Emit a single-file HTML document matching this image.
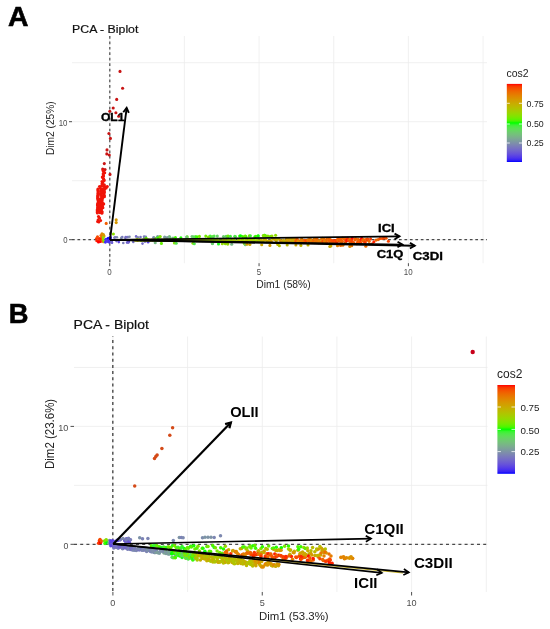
<!DOCTYPE html>
<html><head><meta charset="utf-8"><style>
html,body{margin:0;padding:0;background:#fff;}
svg{display:block;filter:blur(0.3px);}
text{font-family:"Liberation Sans",sans-serif;}
</style></head><body>
<svg width="550" height="629" viewBox="0 0 550 629" font-family="Liberation Sans, sans-serif">
<rect width="550" height="629" fill="#fff"/>
<line x1="109.70" y1="36" x2="109.70" y2="263.2" stroke="#ececec" stroke-width="0.8"/>
<line x1="184.38" y1="36" x2="184.38" y2="263.2" stroke="#ececec" stroke-width="0.8"/>
<line x1="259.05" y1="36" x2="259.05" y2="263.2" stroke="#ececec" stroke-width="0.8"/>
<line x1="333.73" y1="36" x2="333.73" y2="263.2" stroke="#ececec" stroke-width="0.8"/>
<line x1="408.40" y1="36" x2="408.40" y2="263.2" stroke="#ececec" stroke-width="0.8"/>
<line x1="483.07" y1="36" x2="483.07" y2="263.2" stroke="#ececec" stroke-width="0.8"/>
<line x1="72" y1="239.70" x2="487" y2="239.70" stroke="#ececec" stroke-width="0.8"/>
<line x1="72" y1="180.70" x2="487" y2="180.70" stroke="#ececec" stroke-width="0.8"/>
<line x1="72" y1="121.70" x2="487" y2="121.70" stroke="#ececec" stroke-width="0.8"/>
<line x1="72" y1="62.70" x2="487" y2="62.70" stroke="#ececec" stroke-width="0.8"/>
<line x1="109.80" y1="36" x2="109.80" y2="263.2" stroke="#4a4a4a" stroke-width="1.2" stroke-dasharray="2.7 2.75" stroke-dashoffset="0"/>
<line x1="72" y1="239.70" x2="487" y2="239.70" stroke="#4a4a4a" stroke-width="1.2" stroke-dasharray="2.7 2.75"/>
<circle cx="120.0" cy="71.4" r="1.55" fill="#c81414"/>
<circle cx="122.6" cy="88.2" r="1.55" fill="#c81414"/>
<circle cx="116.7" cy="99.4" r="1.55" fill="#c81414"/>
<circle cx="113.2" cy="108.0" r="1.55" fill="#c81414"/>
<circle cx="109.8" cy="111.2" r="1.55" fill="#c81414"/>
<circle cx="115.9" cy="112.8" r="1.55" fill="#c81414"/>
<circle cx="118.7" cy="116.3" r="1.55" fill="#c81414"/>
<circle cx="108.9" cy="133.5" r="1.55" fill="#c81414"/>
<circle cx="110.4" cy="138.4" r="1.55" fill="#c81414"/>
<circle cx="107.0" cy="149.9" r="1.55" fill="#c81414"/>
<circle cx="106.8" cy="153.9" r="1.55" fill="#c81414"/>
<circle cx="109.3" cy="155.0" r="1.55" fill="#c81414"/>
<circle cx="104.3" cy="163.6" r="1.55" fill="#c81414"/>
<circle cx="102.7" cy="169.1" r="1.55" fill="#c81414"/>
<circle cx="105.0" cy="169.6" r="1.55" fill="#c81414"/>
<circle cx="110.0" cy="174.4" r="1.55" fill="#c81414"/>
<circle cx="103.1" cy="170.5" r="1.55" fill="#f01408"/>
<circle cx="103.5" cy="171.6" r="1.55" fill="#f01408"/>
<circle cx="104.7" cy="172.7" r="1.55" fill="#f01408"/>
<circle cx="103.2" cy="173.8" r="1.55" fill="#f01408"/>
<circle cx="103.3" cy="174.9" r="1.55" fill="#f01408"/>
<circle cx="103.6" cy="176.0" r="1.55" fill="#f01408"/>
<circle cx="102.3" cy="177.1" r="1.55" fill="#f01408"/>
<circle cx="103.3" cy="178.2" r="1.55" fill="#f01408"/>
<circle cx="103.7" cy="179.3" r="1.55" fill="#f01408"/>
<circle cx="104.2" cy="180.4" r="1.55" fill="#f01408"/>
<circle cx="102.0" cy="181.5" r="1.55" fill="#f01408"/>
<circle cx="102.7" cy="182.6" r="1.55" fill="#f01408"/>
<circle cx="102.0" cy="183.7" r="1.55" fill="#f01408"/>
<circle cx="104.3" cy="184.8" r="1.55" fill="#f01408"/>
<circle cx="99.5" cy="186.5" r="1.55" fill="#f01408"/>
<circle cx="101.5" cy="186.0" r="1.55" fill="#f01408"/>
<circle cx="103.5" cy="186.3" r="1.55" fill="#f01408"/>
<circle cx="105.5" cy="186.8" r="1.55" fill="#f01408"/>
<circle cx="107.3" cy="186.5" r="1.55" fill="#f01408"/>
<circle cx="100.5" cy="188.2" r="1.55" fill="#f01408"/>
<circle cx="104.0" cy="188.5" r="1.55" fill="#f01408"/>
<circle cx="106.2" cy="188.0" r="1.55" fill="#f01408"/>
<circle cx="97.9" cy="189.0" r="1.55" fill="#f01408"/>
<circle cx="104.5" cy="189.3" r="1.55" fill="#f01408"/>
<circle cx="103.3" cy="189.1" r="1.55" fill="#f01408"/>
<circle cx="98.0" cy="190.0" r="1.55" fill="#f01408"/>
<circle cx="104.2" cy="189.7" r="1.55" fill="#f01408"/>
<circle cx="101.4" cy="189.6" r="1.55" fill="#f01408"/>
<circle cx="98.0" cy="191.0" r="1.55" fill="#f01408"/>
<circle cx="103.1" cy="190.7" r="1.55" fill="#f01408"/>
<circle cx="100.7" cy="191.0" r="1.55" fill="#f01408"/>
<circle cx="98.3" cy="192.0" r="1.55" fill="#f01408"/>
<circle cx="104.5" cy="192.1" r="1.55" fill="#f01408"/>
<circle cx="101.5" cy="192.1" r="1.55" fill="#f01408"/>
<circle cx="98.0" cy="193.0" r="1.55" fill="#f01408"/>
<circle cx="103.5" cy="193.3" r="1.55" fill="#f01408"/>
<circle cx="102.5" cy="193.3" r="1.55" fill="#f01408"/>
<circle cx="98.0" cy="194.0" r="1.55" fill="#f01408"/>
<circle cx="104.0" cy="193.8" r="1.55" fill="#f01408"/>
<circle cx="100.5" cy="193.7" r="1.55" fill="#f01408"/>
<circle cx="98.1" cy="195.0" r="1.55" fill="#f01408"/>
<circle cx="104.0" cy="195.2" r="1.55" fill="#f01408"/>
<circle cx="100.9" cy="195.4" r="1.55" fill="#f01408"/>
<circle cx="97.6" cy="196.0" r="1.55" fill="#f01408"/>
<circle cx="104.1" cy="195.8" r="1.55" fill="#f01408"/>
<circle cx="102.8" cy="196.0" r="1.55" fill="#f01408"/>
<circle cx="98.0" cy="197.0" r="1.55" fill="#f01408"/>
<circle cx="104.4" cy="196.7" r="1.55" fill="#f01408"/>
<circle cx="101.9" cy="197.2" r="1.55" fill="#f01408"/>
<circle cx="97.6" cy="198.0" r="1.55" fill="#f01408"/>
<circle cx="102.5" cy="197.9" r="1.55" fill="#f01408"/>
<circle cx="101.5" cy="198.2" r="1.55" fill="#f01408"/>
<circle cx="97.8" cy="199.0" r="1.55" fill="#f01408"/>
<circle cx="102.1" cy="198.8" r="1.55" fill="#f01408"/>
<circle cx="99.6" cy="199.2" r="1.55" fill="#f01408"/>
<circle cx="98.1" cy="200.0" r="1.55" fill="#f01408"/>
<circle cx="102.1" cy="200.0" r="1.55" fill="#f01408"/>
<circle cx="99.8" cy="200.2" r="1.55" fill="#f01408"/>
<circle cx="98.2" cy="201.0" r="1.55" fill="#f01408"/>
<circle cx="101.9" cy="200.8" r="1.55" fill="#f01408"/>
<circle cx="100.1" cy="200.8" r="1.55" fill="#f01408"/>
<circle cx="98.6" cy="202.0" r="1.55" fill="#f01408"/>
<circle cx="102.1" cy="202.2" r="1.55" fill="#f01408"/>
<circle cx="100.0" cy="202.3" r="1.55" fill="#f01408"/>
<circle cx="97.9" cy="203.0" r="1.55" fill="#f01408"/>
<circle cx="101.9" cy="203.2" r="1.55" fill="#f01408"/>
<circle cx="100.4" cy="202.7" r="1.55" fill="#f01408"/>
<circle cx="97.6" cy="204.0" r="1.55" fill="#f01408"/>
<circle cx="103.7" cy="203.9" r="1.55" fill="#f01408"/>
<circle cx="102.0" cy="203.9" r="1.55" fill="#f01408"/>
<circle cx="97.4" cy="205.0" r="1.55" fill="#f01408"/>
<circle cx="101.9" cy="204.8" r="1.55" fill="#f01408"/>
<circle cx="100.3" cy="204.8" r="1.55" fill="#f01408"/>
<circle cx="97.7" cy="206.0" r="1.55" fill="#f01408"/>
<circle cx="102.5" cy="206.0" r="1.55" fill="#f01408"/>
<circle cx="101.5" cy="206.0" r="1.55" fill="#f01408"/>
<circle cx="98.3" cy="207.0" r="1.55" fill="#f01408"/>
<circle cx="102.4" cy="206.8" r="1.55" fill="#f01408"/>
<circle cx="99.8" cy="207.3" r="1.55" fill="#f01408"/>
<circle cx="97.5" cy="208.0" r="1.55" fill="#f01408"/>
<circle cx="102.9" cy="207.8" r="1.55" fill="#f01408"/>
<circle cx="101.2" cy="208.4" r="1.55" fill="#f01408"/>
<circle cx="98.3" cy="209.0" r="1.55" fill="#f01408"/>
<circle cx="101.3" cy="209.2" r="1.55" fill="#f01408"/>
<circle cx="100.0" cy="208.9" r="1.55" fill="#f01408"/>
<circle cx="97.2" cy="210.0" r="1.55" fill="#f01408"/>
<circle cx="100.9" cy="210.3" r="1.55" fill="#f01408"/>
<circle cx="99.6" cy="210.2" r="1.55" fill="#f01408"/>
<circle cx="98.1" cy="211.0" r="1.55" fill="#f01408"/>
<circle cx="101.2" cy="211.1" r="1.55" fill="#f01408"/>
<circle cx="99.7" cy="210.7" r="1.55" fill="#f01408"/>
<circle cx="97.2" cy="212.0" r="1.55" fill="#f01408"/>
<circle cx="102.2" cy="211.8" r="1.55" fill="#f01408"/>
<circle cx="100.5" cy="212.3" r="1.55" fill="#f01408"/>
<circle cx="97.4" cy="213.0" r="1.55" fill="#f01408"/>
<circle cx="101.9" cy="213.3" r="1.55" fill="#f01408"/>
<circle cx="99.8" cy="212.6" r="1.55" fill="#f01408"/>
<circle cx="98.5" cy="216.5" r="1.55" fill="#f01408"/>
<circle cx="99.5" cy="218.0" r="1.55" fill="#f01408"/>
<circle cx="98.2" cy="219.8" r="1.55" fill="#f01408"/>
<circle cx="100.6" cy="220.5" r="1.55" fill="#f01408"/>
<circle cx="98.8" cy="222.0" r="1.55" fill="#f01408"/>
<circle cx="97.6" cy="221.5" r="1.55" fill="#f01408"/>
<circle cx="106.2" cy="223.4" r="1.55" fill="#f15e00"/>
<circle cx="116.2" cy="219.8" r="1.55" fill="#d79800"/>
<circle cx="116.2" cy="222.6" r="1.55" fill="#d79800"/>
<circle cx="113.4" cy="234.0" r="1.55" fill="#8adf00"/>
<circle cx="100.5" cy="239.5" r="1.55" fill="#fa3900"/>
<circle cx="100.5" cy="241.5" r="1.55" fill="#ff0000"/>
<circle cx="101.8" cy="237.5" r="1.55" fill="#f74a00"/>
<circle cx="102.2" cy="240.5" r="1.55" fill="#f35800"/>
<circle cx="101.0" cy="235.5" r="1.55" fill="#e97400"/>
<circle cx="102.6" cy="234.8" r="1.55" fill="#e57e00"/>
<circle cx="104.0" cy="236.0" r="1.55" fill="#d1a000"/>
<circle cx="99.5" cy="238.5" r="1.55" fill="#fd1e00"/>
<circle cx="103.5" cy="241.8" r="1.55" fill="#ed6a00"/>
<circle cx="98.5" cy="240.5" r="1.55" fill="#fc2d00"/>
<circle cx="96.5" cy="238.5" r="1.55" fill="#fa3900"/>
<circle cx="96.8" cy="240.8" r="1.55" fill="#fd1e00"/>
<circle cx="97.5" cy="236.8" r="1.55" fill="#f74a00"/>
<circle cx="98.5" cy="242.0" r="1.55" fill="#ff0000"/>
<circle cx="102.0" cy="233.8" r="1.55" fill="#e08700"/>
<circle cx="103.4" cy="234.6" r="1.55" fill="#d79800"/>
<circle cx="103.2" cy="237.6" r="1.55" fill="#95d800"/>
<circle cx="103.6" cy="239.8" r="1.55" fill="#8adf00"/>
<circle cx="104.2" cy="241.5" r="1.55" fill="#7de600"/>
<circle cx="106.7" cy="239.7" r="1.55" fill="#1107fe"/>
<circle cx="106.2" cy="239.3" r="1.55" fill="#3f28f3"/>
<circle cx="106.0" cy="239.3" r="1.55" fill="#4e35ec"/>
<circle cx="110.4" cy="240.8" r="1.55" fill="#452df1"/>
<circle cx="108.3" cy="238.2" r="1.55" fill="#0b04fe"/>
<circle cx="105.4" cy="242.1" r="1.55" fill="#462ef0"/>
<circle cx="110.3" cy="237.6" r="1.55" fill="#432bf2"/>
<circle cx="107.8" cy="241.2" r="1.55" fill="#2f1bf8"/>
<circle cx="110.5" cy="237.9" r="1.55" fill="#3e27f4"/>
<circle cx="109.1" cy="242.0" r="1.55" fill="#472ff0"/>
<circle cx="109.0" cy="241.5" r="1.55" fill="#4e36ec"/>
<circle cx="107.1" cy="240.9" r="1.55" fill="#4e35ec"/>
<circle cx="109.8" cy="239.6" r="1.55" fill="#4a31ef"/>
<circle cx="109.8" cy="240.4" r="1.55" fill="#422af2"/>
<circle cx="127.8" cy="237.1" r="1.3" fill="#7a7abb"/>
<circle cx="116.9" cy="237.2" r="1.3" fill="#7d8faa"/>
<circle cx="145.7" cy="236.7" r="1.3" fill="#766ec5"/>
<circle cx="140.5" cy="237.0" r="1.3" fill="#7771c2"/>
<circle cx="144.2" cy="237.8" r="1.3" fill="#7b82b5"/>
<circle cx="115.1" cy="237.3" r="1.3" fill="#7773c1"/>
<circle cx="122.3" cy="237.0" r="1.3" fill="#7874c0"/>
<circle cx="136.1" cy="236.4" r="1.3" fill="#7367ca"/>
<circle cx="114.4" cy="237.8" r="1.3" fill="#7b7eb8"/>
<circle cx="121.3" cy="237.9" r="1.3" fill="#7d8aae"/>
<circle cx="137.8" cy="237.2" r="1.3" fill="#7d89af"/>
<circle cx="125.8" cy="237.0" r="1.3" fill="#7164cd"/>
<circle cx="129.5" cy="236.7" r="1.3" fill="#7d8bae"/>
<circle cx="145.7" cy="237.2" r="1.3" fill="#7979bc"/>
<circle cx="125.4" cy="237.9" r="1.3" fill="#7874c0"/>
<circle cx="144.1" cy="236.5" r="1.3" fill="#7b80b7"/>
<circle cx="148.1" cy="242.2" r="1.3" fill="#5d46e2"/>
<circle cx="128.6" cy="241.8" r="1.3" fill="#6049e0"/>
<circle cx="127.1" cy="242.6" r="1.3" fill="#6d5dd2"/>
<circle cx="123.3" cy="243.0" r="1.3" fill="#7a7cb9"/>
<circle cx="128.6" cy="241.4" r="1.3" fill="#543be9"/>
<circle cx="145.0" cy="241.6" r="1.3" fill="#746bc7"/>
<circle cx="133.3" cy="242.0" r="1.3" fill="#7670c3"/>
<circle cx="111.7" cy="241.2" r="1.3" fill="#6c5ad4"/>
<circle cx="112.0" cy="242.7" r="1.3" fill="#614bdf"/>
<circle cx="116.5" cy="241.1" r="1.3" fill="#7266cb"/>
<circle cx="128.4" cy="242.6" r="1.3" fill="#7368ca"/>
<circle cx="142.5" cy="243.6" r="1.3" fill="#7469c8"/>
<circle cx="118.8" cy="242.1" r="1.3" fill="#5e47e1"/>
<circle cx="111.4" cy="241.9" r="1.3" fill="#746bc7"/>
<circle cx="164.7" cy="237.1" r="1.55" fill="#7d97a3"/>
<circle cx="211.8" cy="237.0" r="1.55" fill="#5fdd5a"/>
<circle cx="249.3" cy="235.9" r="1.55" fill="#86e100"/>
<circle cx="157.9" cy="236.8" r="1.55" fill="#7d98a2"/>
<circle cx="192.0" cy="236.5" r="1.55" fill="#72c577"/>
<circle cx="270.3" cy="236.5" r="1.55" fill="#6aed00"/>
<circle cx="239.6" cy="236.1" r="1.55" fill="#3ef900"/>
<circle cx="169.4" cy="236.5" r="1.55" fill="#76bc80"/>
<circle cx="214.1" cy="236.1" r="1.55" fill="#50e948"/>
<circle cx="258.1" cy="236.1" r="1.55" fill="#60f100"/>
<circle cx="246.0" cy="237.1" r="1.55" fill="#7ee500"/>
<circle cx="250.4" cy="235.8" r="1.55" fill="#40f237"/>
<circle cx="159.4" cy="237.1" r="1.55" fill="#7d8aae"/>
<circle cx="255.9" cy="236.2" r="1.55" fill="#61f100"/>
<circle cx="271.0" cy="236.4" r="1.55" fill="#68ee00"/>
<circle cx="240.6" cy="235.8" r="1.55" fill="#05ff04"/>
<circle cx="217.3" cy="236.1" r="1.55" fill="#68d466"/>
<circle cx="264.3" cy="235.3" r="1.55" fill="#2bfc00"/>
<circle cx="212.3" cy="236.8" r="1.55" fill="#69ee00"/>
<circle cx="223.5" cy="236.6" r="1.55" fill="#6ecc6f"/>
<circle cx="195.3" cy="237.0" r="1.55" fill="#67d465"/>
<circle cx="235.4" cy="236.6" r="1.55" fill="#61db5c"/>
<circle cx="272.0" cy="236.1" r="1.55" fill="#93da00"/>
<circle cx="157.5" cy="236.8" r="1.55" fill="#7d97a3"/>
<circle cx="205.8" cy="236.1" r="1.55" fill="#70eb00"/>
<circle cx="157.9" cy="237.9" r="1.55" fill="#40f900"/>
<circle cx="234.8" cy="236.3" r="1.55" fill="#52e84a"/>
<circle cx="154.5" cy="238.0" r="1.55" fill="#66ef00"/>
<circle cx="167.3" cy="237.6" r="1.55" fill="#7ca795"/>
<circle cx="197.0" cy="236.8" r="1.55" fill="#42f900"/>
<circle cx="228.1" cy="236.4" r="1.55" fill="#4deb44"/>
<circle cx="258.2" cy="235.7" r="1.55" fill="#13fd0e"/>
<circle cx="264.6" cy="235.4" r="1.55" fill="#46f800"/>
<circle cx="170.1" cy="237.9" r="1.55" fill="#73c27a"/>
<circle cx="173.0" cy="238.0" r="1.55" fill="#78b785"/>
<circle cx="254.8" cy="236.9" r="1.55" fill="#2efc00"/>
<circle cx="195.6" cy="236.7" r="1.55" fill="#41f900"/>
<circle cx="265.8" cy="235.7" r="1.55" fill="#66ef00"/>
<circle cx="209.4" cy="237.5" r="1.55" fill="#25fd00"/>
<circle cx="145.2" cy="237.5" r="1.55" fill="#7d8faa"/>
<circle cx="160.2" cy="236.6" r="1.55" fill="#80e400"/>
<circle cx="267.9" cy="236.1" r="1.55" fill="#87e100"/>
<circle cx="245.5" cy="236.3" r="1.55" fill="#3af431"/>
<circle cx="199.4" cy="236.4" r="1.55" fill="#76e900"/>
<circle cx="165.0" cy="237.6" r="1.55" fill="#7da09b"/>
<circle cx="166.9" cy="238.2" r="1.55" fill="#7d93a6"/>
<circle cx="263.3" cy="235.5" r="1.55" fill="#7ce600"/>
<circle cx="226.9" cy="236.6" r="1.55" fill="#58e351"/>
<circle cx="275.6" cy="235.3" r="1.55" fill="#90dc00"/>
<circle cx="242.7" cy="236.5" r="1.55" fill="#43f800"/>
<circle cx="263.7" cy="235.7" r="1.55" fill="#83e300"/>
<circle cx="245.6" cy="237.1" r="1.55" fill="#2df826"/>
<circle cx="187.2" cy="236.9" r="1.55" fill="#56f400"/>
<circle cx="226.1" cy="236.3" r="1.55" fill="#63d95f"/>
<circle cx="186.6" cy="237.1" r="1.55" fill="#73c379"/>
<circle cx="193.8" cy="236.7" r="1.55" fill="#5fdd5a"/>
<circle cx="245.1" cy="236.0" r="1.55" fill="#6fec00"/>
<circle cx="175.4" cy="237.5" r="1.55" fill="#41f900"/>
<circle cx="153.6" cy="237.5" r="1.55" fill="#7d89af"/>
<circle cx="210.1" cy="236.0" r="1.55" fill="#48ed40"/>
<circle cx="228.0" cy="236.1" r="1.55" fill="#6eec00"/>
<circle cx="146.2" cy="238.2" r="1.55" fill="#63f000"/>
<circle cx="208.4" cy="237.0" r="1.55" fill="#87e100"/>
<circle cx="212.7" cy="237.1" r="1.55" fill="#5fdd59"/>
<circle cx="230.4" cy="236.2" r="1.55" fill="#45ef3c"/>
<circle cx="180.9" cy="237.8" r="1.55" fill="#1cfe00"/>
<circle cx="225.5" cy="243.8" r="1.55" fill="#82e300"/>
<circle cx="224.8" cy="243.1" r="1.55" fill="#93da00"/>
<circle cx="244.4" cy="243.6" r="1.55" fill="#84e200"/>
<circle cx="193.0" cy="243.3" r="1.55" fill="#91db00"/>
<circle cx="174.4" cy="243.0" r="1.55" fill="#8adf00"/>
<circle cx="222.3" cy="243.8" r="1.55" fill="#92db00"/>
<circle cx="231.7" cy="244.3" r="1.55" fill="#77b983"/>
<circle cx="212.4" cy="243.6" r="1.55" fill="#72c577"/>
<circle cx="155.2" cy="242.7" r="1.55" fill="#77ba82"/>
<circle cx="194.3" cy="243.7" r="1.55" fill="#52e84a"/>
<circle cx="176.2" cy="243.2" r="1.55" fill="#58e352"/>
<circle cx="227.8" cy="244.1" r="1.55" fill="#95d900"/>
<circle cx="245.3" cy="244.8" r="1.55" fill="#6fca71"/>
<circle cx="161.4" cy="243.4" r="1.55" fill="#66ef00"/>
<circle cx="212.5" cy="243.5" r="1.55" fill="#6cce6c"/>
<circle cx="218.5" cy="243.9" r="1.55" fill="#25fa1e"/>
<circle cx="135.3" cy="240.3" r="1.55" fill="#b2c300"/>
<circle cx="137.0" cy="239.6" r="1.55" fill="#a1d000"/>
<circle cx="137.5" cy="240.4" r="1.55" fill="#bbba00"/>
<circle cx="139.4" cy="239.9" r="1.55" fill="#a2cf00"/>
<circle cx="141.0" cy="240.4" r="1.55" fill="#9ad500"/>
<circle cx="142.7" cy="240.0" r="1.55" fill="#9ad600"/>
<circle cx="143.9" cy="240.1" r="1.55" fill="#b2c300"/>
<circle cx="145.3" cy="239.9" r="1.55" fill="#a0d100"/>
<circle cx="146.6" cy="240.3" r="1.55" fill="#b9bc00"/>
<circle cx="148.6" cy="239.9" r="1.55" fill="#b8bd00"/>
<circle cx="149.9" cy="240.2" r="1.55" fill="#a0d100"/>
<circle cx="151.4" cy="240.0" r="1.55" fill="#b8bd00"/>
<circle cx="152.8" cy="240.1" r="1.55" fill="#bfb600"/>
<circle cx="154.9" cy="240.1" r="1.55" fill="#b6bf00"/>
<circle cx="155.6" cy="240.0" r="1.55" fill="#a7cc00"/>
<circle cx="157.1" cy="240.1" r="1.55" fill="#99d600"/>
<circle cx="159.2" cy="240.1" r="1.55" fill="#acc800"/>
<circle cx="160.1" cy="240.2" r="1.55" fill="#b7be00"/>
<circle cx="161.6" cy="240.1" r="1.55" fill="#b3c200"/>
<circle cx="163.7" cy="240.1" r="1.55" fill="#b5c000"/>
<circle cx="164.9" cy="240.1" r="1.55" fill="#9cd400"/>
<circle cx="166.1" cy="240.1" r="1.55" fill="#a7cc00"/>
<circle cx="168.4" cy="240.2" r="1.55" fill="#afc500"/>
<circle cx="169.4" cy="240.2" r="1.55" fill="#bcb900"/>
<circle cx="170.8" cy="240.1" r="1.55" fill="#a4ce00"/>
<circle cx="172.9" cy="240.1" r="1.55" fill="#bdb800"/>
<circle cx="173.9" cy="240.1" r="1.55" fill="#a6cc00"/>
<circle cx="175.4" cy="240.1" r="1.55" fill="#a8cb00"/>
<circle cx="177.3" cy="240.2" r="1.55" fill="#afc500"/>
<circle cx="178.6" cy="240.0" r="1.55" fill="#b9bc00"/>
<circle cx="180.4" cy="240.1" r="1.55" fill="#b6bf00"/>
<circle cx="181.5" cy="240.2" r="1.55" fill="#96d800"/>
<circle cx="183.5" cy="240.3" r="1.55" fill="#afc500"/>
<circle cx="184.1" cy="240.2" r="1.55" fill="#b8bd00"/>
<circle cx="185.6" cy="239.9" r="1.55" fill="#b7be00"/>
<circle cx="187.9" cy="239.9" r="1.55" fill="#b6bf00"/>
<circle cx="188.6" cy="240.4" r="1.55" fill="#b2c300"/>
<circle cx="190.2" cy="240.0" r="1.55" fill="#b2c200"/>
<circle cx="192.0" cy="240.4" r="1.55" fill="#b7be00"/>
<circle cx="193.3" cy="240.6" r="1.55" fill="#a8cb00"/>
<circle cx="195.0" cy="240.2" r="1.55" fill="#b3c200"/>
<circle cx="196.7" cy="240.6" r="1.55" fill="#b5c000"/>
<circle cx="198.3" cy="240.4" r="1.55" fill="#a9cb00"/>
<circle cx="199.8" cy="240.6" r="1.55" fill="#babb00"/>
<circle cx="201.5" cy="240.4" r="1.55" fill="#bbba00"/>
<circle cx="202.7" cy="240.6" r="1.55" fill="#adc700"/>
<circle cx="203.9" cy="239.8" r="1.55" fill="#a9ca00"/>
<circle cx="206.0" cy="240.1" r="1.55" fill="#b6bf00"/>
<circle cx="206.7" cy="240.2" r="1.55" fill="#9ed300"/>
<circle cx="209.0" cy="239.7" r="1.55" fill="#a3cf00"/>
<circle cx="209.6" cy="240.5" r="1.55" fill="#a4ce00"/>
<circle cx="211.2" cy="239.6" r="1.55" fill="#b7be00"/>
<circle cx="213.1" cy="240.9" r="1.55" fill="#abc900"/>
<circle cx="214.1" cy="239.8" r="1.55" fill="#97d700"/>
<circle cx="215.7" cy="240.6" r="1.55" fill="#a0d100"/>
<circle cx="217.2" cy="239.8" r="1.55" fill="#b0c400"/>
<circle cx="218.7" cy="240.7" r="1.55" fill="#a3cf00"/>
<circle cx="220.5" cy="240.8" r="1.55" fill="#a4ce00"/>
<circle cx="221.8" cy="241.0" r="1.55" fill="#acc800"/>
<circle cx="223.3" cy="240.4" r="1.55" fill="#bcb900"/>
<circle cx="225.0" cy="239.8" r="1.55" fill="#bdb800"/>
<circle cx="226.9" cy="240.9" r="1.55" fill="#98d700"/>
<circle cx="228.0" cy="240.3" r="1.55" fill="#a8cc00"/>
<circle cx="230.0" cy="240.6" r="1.55" fill="#a3cf00"/>
<circle cx="230.5" cy="240.3" r="1.55" fill="#a1d100"/>
<circle cx="232.8" cy="240.8" r="1.55" fill="#a7cc00"/>
<circle cx="233.7" cy="239.6" r="1.55" fill="#b1c400"/>
<circle cx="235.3" cy="241.2" r="1.55" fill="#a5ce00"/>
<circle cx="237.1" cy="241.5" r="1.55" fill="#adc700"/>
<circle cx="238.5" cy="239.5" r="1.55" fill="#a2d000"/>
<circle cx="239.5" cy="241.1" r="1.55" fill="#b7be00"/>
<circle cx="241.8" cy="239.4" r="1.55" fill="#babc00"/>
<circle cx="243.2" cy="239.4" r="1.55" fill="#a2cf00"/>
<circle cx="244.5" cy="241.5" r="1.55" fill="#acc800"/>
<circle cx="246.4" cy="239.9" r="1.55" fill="#b0c500"/>
<circle cx="247.4" cy="241.5" r="1.55" fill="#b8be00"/>
<circle cx="249.3" cy="239.6" r="1.55" fill="#9ad500"/>
<circle cx="250.5" cy="239.5" r="1.55" fill="#aec600"/>
<circle cx="251.8" cy="239.9" r="1.55" fill="#b9bc00"/>
<circle cx="253.3" cy="240.3" r="1.55" fill="#99d600"/>
<circle cx="254.9" cy="240.9" r="1.55" fill="#b5c000"/>
<circle cx="256.4" cy="240.3" r="1.55" fill="#9bd500"/>
<circle cx="258.3" cy="240.9" r="1.55" fill="#beb700"/>
<circle cx="259.4" cy="241.0" r="1.55" fill="#96d800"/>
<circle cx="261.1" cy="240.3" r="1.55" fill="#c7ad00"/>
<circle cx="263.0" cy="241.3" r="1.55" fill="#bfb600"/>
<circle cx="264.1" cy="239.8" r="1.55" fill="#c6ae00"/>
<circle cx="265.5" cy="239.8" r="1.55" fill="#cba800"/>
<circle cx="266.9" cy="241.0" r="1.55" fill="#caaa00"/>
<circle cx="268.2" cy="241.2" r="1.55" fill="#c7ad00"/>
<circle cx="270.4" cy="240.7" r="1.55" fill="#c9aa00"/>
<circle cx="271.3" cy="241.6" r="1.55" fill="#d59b00"/>
<circle cx="272.6" cy="239.1" r="1.55" fill="#c2b300"/>
<circle cx="274.7" cy="239.4" r="1.55" fill="#d39c00"/>
<circle cx="276.3" cy="240.8" r="1.55" fill="#cca700"/>
<circle cx="277.2" cy="239.2" r="1.55" fill="#c2b300"/>
<circle cx="278.9" cy="238.9" r="1.55" fill="#c3b200"/>
<circle cx="280.4" cy="240.5" r="1.55" fill="#da9300"/>
<circle cx="282.3" cy="241.7" r="1.55" fill="#d39e00"/>
<circle cx="283.3" cy="240.2" r="1.55" fill="#cba800"/>
<circle cx="284.9" cy="241.3" r="1.55" fill="#bfb500"/>
<circle cx="286.8" cy="241.1" r="1.55" fill="#db9000"/>
<circle cx="286.6" cy="238.8" r="1.55" fill="#d89600"/>
<circle cx="288.2" cy="239.0" r="1.55" fill="#caa900"/>
<circle cx="287.9" cy="240.5" r="1.55" fill="#d0a100"/>
<circle cx="289.6" cy="239.2" r="1.55" fill="#d79700"/>
<circle cx="289.8" cy="241.9" r="1.55" fill="#d89500"/>
<circle cx="291.0" cy="239.1" r="1.55" fill="#caa900"/>
<circle cx="291.2" cy="242.3" r="1.55" fill="#cba900"/>
<circle cx="292.5" cy="239.3" r="1.55" fill="#d49b00"/>
<circle cx="292.6" cy="241.0" r="1.55" fill="#cea400"/>
<circle cx="293.1" cy="240.8" r="1.55" fill="#c2b300"/>
<circle cx="293.6" cy="239.9" r="1.55" fill="#cca600"/>
<circle cx="294.6" cy="239.0" r="1.55" fill="#caa900"/>
<circle cx="295.1" cy="239.2" r="1.55" fill="#d49c00"/>
<circle cx="295.9" cy="240.8" r="1.55" fill="#ec6d00"/>
<circle cx="295.6" cy="242.1" r="1.55" fill="#f45600"/>
<circle cx="297.1" cy="239.0" r="1.55" fill="#f25d00"/>
<circle cx="297.3" cy="239.7" r="1.55" fill="#f74700"/>
<circle cx="298.3" cy="241.9" r="1.55" fill="#e67c00"/>
<circle cx="297.9" cy="240.7" r="1.55" fill="#de8b00"/>
<circle cx="299.1" cy="242.6" r="1.55" fill="#e18500"/>
<circle cx="299.8" cy="241.2" r="1.55" fill="#de8c00"/>
<circle cx="300.8" cy="240.0" r="1.55" fill="#ef6600"/>
<circle cx="300.7" cy="241.7" r="1.55" fill="#e77a00"/>
<circle cx="301.8" cy="239.0" r="1.55" fill="#e57e00"/>
<circle cx="301.7" cy="240.8" r="1.55" fill="#df8900"/>
<circle cx="302.8" cy="240.8" r="1.55" fill="#ec6e00"/>
<circle cx="302.8" cy="241.1" r="1.55" fill="#e48000"/>
<circle cx="303.8" cy="242.6" r="1.55" fill="#ef6600"/>
<circle cx="304.3" cy="240.4" r="1.55" fill="#ed6a00"/>
<circle cx="305.6" cy="241.7" r="1.55" fill="#ee6800"/>
<circle cx="305.7" cy="240.5" r="1.55" fill="#f55000"/>
<circle cx="307.0" cy="240.2" r="1.55" fill="#f25c00"/>
<circle cx="306.5" cy="240.8" r="1.55" fill="#f84500"/>
<circle cx="307.8" cy="240.3" r="1.55" fill="#ec6e00"/>
<circle cx="308.2" cy="239.8" r="1.55" fill="#e47f00"/>
<circle cx="309.4" cy="241.6" r="1.55" fill="#f06300"/>
<circle cx="309.1" cy="241.6" r="1.55" fill="#ed6b00"/>
<circle cx="309.8" cy="238.8" r="1.55" fill="#ed6a00"/>
<circle cx="310.1" cy="240.6" r="1.55" fill="#ec6e00"/>
<circle cx="311.6" cy="240.7" r="1.55" fill="#e28400"/>
<circle cx="311.1" cy="239.8" r="1.55" fill="#e08800"/>
<circle cx="312.2" cy="242.5" r="1.55" fill="#e67c00"/>
<circle cx="313.1" cy="241.3" r="1.55" fill="#ec6d00"/>
<circle cx="314.1" cy="239.3" r="1.55" fill="#ea7300"/>
<circle cx="314.0" cy="240.9" r="1.55" fill="#f06200"/>
<circle cx="315.3" cy="238.8" r="1.55" fill="#e38200"/>
<circle cx="315.0" cy="242.6" r="1.55" fill="#d99400"/>
<circle cx="316.0" cy="239.7" r="1.55" fill="#e67c00"/>
<circle cx="315.8" cy="242.3" r="1.55" fill="#eb6f00"/>
<circle cx="317.3" cy="241.0" r="1.55" fill="#e97400"/>
<circle cx="316.9" cy="238.5" r="1.55" fill="#f06300"/>
<circle cx="318.6" cy="242.7" r="1.55" fill="#e77900"/>
<circle cx="319.1" cy="240.5" r="1.55" fill="#e28300"/>
<circle cx="320.2" cy="242.6" r="1.55" fill="#e77900"/>
<circle cx="319.5" cy="242.1" r="1.55" fill="#e57f00"/>
<circle cx="320.7" cy="242.5" r="1.55" fill="#eb7000"/>
<circle cx="321.5" cy="239.2" r="1.55" fill="#ed6b00"/>
<circle cx="322.6" cy="238.4" r="1.55" fill="#e57e00"/>
<circle cx="321.8" cy="241.6" r="1.55" fill="#e18500"/>
<circle cx="323.8" cy="241.7" r="1.55" fill="#f35800"/>
<circle cx="323.0" cy="241.5" r="1.55" fill="#f93d00"/>
<circle cx="324.2" cy="239.2" r="1.55" fill="#ea7200"/>
<circle cx="324.4" cy="241.6" r="1.55" fill="#e57e00"/>
<circle cx="325.5" cy="241.5" r="1.55" fill="#e57f00"/>
<circle cx="326.1" cy="240.0" r="1.55" fill="#e77800"/>
<circle cx="327.1" cy="239.2" r="1.55" fill="#f35900"/>
<circle cx="326.8" cy="242.7" r="1.55" fill="#f55000"/>
<circle cx="328.3" cy="238.5" r="1.55" fill="#e77a00"/>
<circle cx="328.7" cy="240.3" r="1.55" fill="#e77900"/>
<circle cx="328.9" cy="241.2" r="1.55" fill="#ec6d00"/>
<circle cx="329.2" cy="239.4" r="1.55" fill="#f16000"/>
<circle cx="330.4" cy="242.0" r="1.55" fill="#ef6500"/>
<circle cx="330.3" cy="239.6" r="1.55" fill="#f06300"/>
<circle cx="332.2" cy="243.2" r="1.55" fill="#f15f00"/>
<circle cx="331.3" cy="240.5" r="1.55" fill="#f55200"/>
<circle cx="333.4" cy="240.6" r="1.55" fill="#f55200"/>
<circle cx="332.7" cy="240.9" r="1.55" fill="#f74a00"/>
<circle cx="334.4" cy="242.2" r="1.55" fill="#f45400"/>
<circle cx="334.2" cy="240.7" r="1.55" fill="#f93f00"/>
<circle cx="335.4" cy="243.1" r="1.55" fill="#fa3a00"/>
<circle cx="335.1" cy="242.1" r="1.55" fill="#f55000"/>
<circle cx="336.3" cy="240.3" r="1.55" fill="#f94100"/>
<circle cx="336.9" cy="242.1" r="1.55" fill="#fc2800"/>
<circle cx="337.8" cy="239.1" r="1.55" fill="#f25c00"/>
<circle cx="337.9" cy="240.7" r="1.55" fill="#eb7100"/>
<circle cx="339.2" cy="241.1" r="1.55" fill="#f84200"/>
<circle cx="339.4" cy="239.0" r="1.55" fill="#f35700"/>
<circle cx="340.2" cy="240.3" r="1.55" fill="#ee6900"/>
<circle cx="340.1" cy="239.4" r="1.55" fill="#f25b00"/>
<circle cx="341.8" cy="241.1" r="1.55" fill="#ef6600"/>
<circle cx="341.4" cy="242.2" r="1.55" fill="#eb7100"/>
<circle cx="342.4" cy="238.1" r="1.55" fill="#f06100"/>
<circle cx="342.4" cy="241.3" r="1.55" fill="#f16000"/>
<circle cx="343.9" cy="238.3" r="1.55" fill="#f25a00"/>
<circle cx="344.1" cy="238.9" r="1.55" fill="#ef6600"/>
<circle cx="345.2" cy="242.6" r="1.55" fill="#f06100"/>
<circle cx="345.3" cy="238.3" r="1.55" fill="#ef6500"/>
<circle cx="345.9" cy="243.4" r="1.55" fill="#f45400"/>
<circle cx="345.7" cy="240.6" r="1.55" fill="#f84400"/>
<circle cx="347.0" cy="240.4" r="1.55" fill="#ff0600"/>
<circle cx="347.6" cy="238.2" r="1.55" fill="#fb3000"/>
<circle cx="348.2" cy="240.1" r="1.55" fill="#fd2000"/>
<circle cx="348.4" cy="240.3" r="1.55" fill="#f84600"/>
<circle cx="350.3" cy="242.2" r="1.55" fill="#ee6800"/>
<circle cx="350.0" cy="239.2" r="1.55" fill="#ea7200"/>
<circle cx="350.7" cy="240.5" r="1.55" fill="#f84600"/>
<circle cx="351.4" cy="239.9" r="1.55" fill="#f55000"/>
<circle cx="352.3" cy="238.0" r="1.55" fill="#ff0800"/>
<circle cx="352.1" cy="241.5" r="1.55" fill="#f93f00"/>
<circle cx="353.6" cy="242.9" r="1.55" fill="#f45500"/>
<circle cx="353.5" cy="242.9" r="1.55" fill="#f35700"/>
<circle cx="354.9" cy="240.0" r="1.55" fill="#f55200"/>
<circle cx="354.9" cy="239.1" r="1.55" fill="#f35a00"/>
<circle cx="355.8" cy="238.7" r="1.55" fill="#f15f00"/>
<circle cx="355.5" cy="239.1" r="1.55" fill="#f06100"/>
<circle cx="356.9" cy="243.7" r="1.55" fill="#f35700"/>
<circle cx="357.2" cy="242.8" r="1.55" fill="#ef6600"/>
<circle cx="357.8" cy="241.9" r="1.55" fill="#f55200"/>
<circle cx="358.1" cy="239.4" r="1.55" fill="#ed6a00"/>
<circle cx="359.2" cy="240.1" r="1.55" fill="#f15f00"/>
<circle cx="359.8" cy="242.0" r="1.55" fill="#ed6a00"/>
<circle cx="360.3" cy="243.4" r="1.55" fill="#f45400"/>
<circle cx="360.5" cy="242.3" r="1.55" fill="#f74700"/>
<circle cx="361.3" cy="239.6" r="1.55" fill="#fe1d00"/>
<circle cx="361.7" cy="238.3" r="1.55" fill="#ff0000"/>
<circle cx="363.3" cy="240.9" r="1.55" fill="#f45600"/>
<circle cx="362.6" cy="240.1" r="1.55" fill="#f06300"/>
<circle cx="363.9" cy="241.3" r="1.55" fill="#ee6700"/>
<circle cx="363.7" cy="239.6" r="1.55" fill="#ed6b00"/>
<circle cx="365.0" cy="242.1" r="1.55" fill="#f74700"/>
<circle cx="365.2" cy="242.1" r="1.55" fill="#fa3b00"/>
<circle cx="366.3" cy="239.3" r="1.55" fill="#f06100"/>
<circle cx="366.8" cy="240.2" r="1.55" fill="#ee6700"/>
<circle cx="367.5" cy="239.4" r="1.55" fill="#fd2400"/>
<circle cx="367.6" cy="239.0" r="1.55" fill="#f74a00"/>
<circle cx="369.1" cy="241.2" r="1.55" fill="#ee6800"/>
<circle cx="369.3" cy="243.7" r="1.55" fill="#eb7100"/>
<circle cx="370.6" cy="238.9" r="1.55" fill="#fa3b00"/>
<circle cx="372.4" cy="243.8" r="1.55" fill="#fa3a00"/>
<circle cx="373.9" cy="241.7" r="1.55" fill="#fd2400"/>
<circle cx="376.1" cy="240.1" r="1.55" fill="#ef6500"/>
<circle cx="378.1" cy="239.6" r="1.55" fill="#ef6600"/>
<circle cx="380.0" cy="238.5" r="1.55" fill="#f74a00"/>
<circle cx="382.2" cy="238.5" r="1.55" fill="#f55100"/>
<circle cx="383.9" cy="238.0" r="1.55" fill="#fa3c00"/>
<circle cx="386.1" cy="238.3" r="1.55" fill="#f45500"/>
<circle cx="388.4" cy="241.2" r="1.55" fill="#f84300"/>
<circle cx="308.0" cy="244.9" r="1.55" fill="#c1b300"/>
<circle cx="277.8" cy="244.4" r="1.55" fill="#c2b300"/>
<circle cx="249.9" cy="244.5" r="1.55" fill="#c9ab00"/>
<circle cx="287.2" cy="245.0" r="1.55" fill="#bcb900"/>
<circle cx="247.1" cy="244.2" r="1.55" fill="#d39d00"/>
<circle cx="295.9" cy="245.0" r="1.55" fill="#cca700"/>
<circle cx="261.7" cy="244.7" r="1.55" fill="#caaa00"/>
<circle cx="330.9" cy="245.9" r="1.55" fill="#c8ab00"/>
<circle cx="329.8" cy="246.5" r="1.55" fill="#caa900"/>
<circle cx="300.9" cy="245.4" r="1.55" fill="#c2b200"/>
<circle cx="269.9" cy="245.4" r="1.55" fill="#d39d00"/>
<circle cx="279.4" cy="245.7" r="1.55" fill="#b2c300"/>
<circle cx="337.5" cy="245.7" r="1.55" fill="#e28400"/>
<circle cx="349.8" cy="246.4" r="1.55" fill="#dc8e00"/>
<circle cx="340.6" cy="245.5" r="1.55" fill="#ee6900"/>
<circle cx="342.9" cy="245.3" r="1.55" fill="#ea7300"/>
<circle cx="351.7" cy="245.7" r="1.55" fill="#e87700"/>
<circle cx="365.8" cy="246.3" r="1.55" fill="#ec6d00"/>
<line x1="109.70" y1="263.2" x2="109.70" y2="266.2" stroke="#4d4d4d" stroke-width="1"/>
<line x1="259.05" y1="263.2" x2="259.05" y2="266.2" stroke="#4d4d4d" stroke-width="1"/>
<line x1="408.40" y1="263.2" x2="408.40" y2="266.2" stroke="#4d4d4d" stroke-width="1"/>
<line x1="69" y1="239.70" x2="72" y2="239.70" stroke="#4d4d4d" stroke-width="1"/>
<line x1="69" y1="121.70" x2="72" y2="121.70" stroke="#4d4d4d" stroke-width="1"/>
<line x1="110.00" y1="239.85" x2="126.66" y2="107.79" stroke="#000" stroke-width="1.9"/>
<polyline points="128.83,112.95 126.66,107.79 123.28,112.25" fill="none" stroke="#000" stroke-width="1.9" stroke-linejoin="miter" stroke-miterlimit="10" stroke-linecap="butt"/>
<line x1="110.00" y1="239.85" x2="399.45" y2="236.32" stroke="#000" stroke-width="1.85"/>
<polyline points="394.63,239.18 399.45,236.32 394.57,233.58" fill="none" stroke="#000" stroke-width="1.85" stroke-linejoin="miter" stroke-miterlimit="10" stroke-linecap="butt"/>
<line x1="110.00" y1="239.85" x2="402.35" y2="244.57" stroke="#000" stroke-width="1.85"/>
<polyline points="397.46,247.29 402.35,244.57 397.55,241.69" fill="none" stroke="#000" stroke-width="1.85" stroke-linejoin="miter" stroke-miterlimit="10" stroke-linecap="butt"/>
<line x1="110.00" y1="239.85" x2="414.75" y2="245.76" stroke="#000" stroke-width="1.85"/>
<polyline points="409.85,248.47 414.75,245.76 409.96,242.87" fill="none" stroke="#000" stroke-width="1.85" stroke-linejoin="miter" stroke-miterlimit="10" stroke-linecap="butt"/>
<text transform="translate(100.90,120.90) scale(1.040,1)" font-size="11.6" text-anchor="start" font-weight="bold" fill="#000" stroke="#000" stroke-width="0.35">OL1</text>
<text transform="translate(378.10,232.30) scale(1.120,1)" font-size="11.6" text-anchor="start" font-weight="bold" fill="#000" stroke="#000" stroke-width="0.35">ICI</text>
<text transform="translate(376.70,257.50) scale(1.120,1)" font-size="11.6" text-anchor="start" font-weight="bold" fill="#000" stroke="#000" stroke-width="0.35">C1Q</text>
<text transform="translate(412.80,260.00) scale(1.140,1)" font-size="11.6" text-anchor="start" font-weight="bold" fill="#000" stroke="#000" stroke-width="0.35">C3DI</text>
<text transform="translate(7.90,26.10) scale(1.020,1)" font-size="27.8" text-anchor="start" font-weight="bold" fill="#000" stroke="#000" stroke-width="0.6">A</text>
<text transform="translate(72.10,32.70) scale(1.090,1)" font-size="11.3" text-anchor="start" font-weight="normal" fill="#111" stroke="#111" stroke-width="0.2">PCA - Biplot</text>
<text transform="translate(67.50,125.80) scale(0.920,1)" font-size="8.6" text-anchor="end" font-weight="normal" fill="#4d4d4d" >10</text>
<text transform="translate(67.50,243.40) scale(0.900,1)" font-size="8.6" text-anchor="end" font-weight="normal" fill="#4d4d4d" >0</text>
<text transform="translate(109.50,275.40) scale(0.950,1)" font-size="8.4" text-anchor="middle" font-weight="normal" fill="#4d4d4d" >0</text>
<text transform="translate(258.85,275.40) scale(0.950,1)" font-size="8.4" text-anchor="middle" font-weight="normal" fill="#4d4d4d" >5</text>
<text transform="translate(408.20,275.40) scale(0.950,1)" font-size="8.4" text-anchor="middle" font-weight="normal" fill="#4d4d4d" >10</text>
<text x="283.50" y="287.70" font-size="10.3" text-anchor="middle" font-weight="normal" fill="#262626" >Dim1 (58%)</text>
<text transform="translate(54.3,128.2) rotate(-90)" font-size="10.2" text-anchor="middle" fill="#262626">Dim2 (25%)</text>
<defs><linearGradient id="gA" x1="0" y1="0" x2="0" y2="1"><stop offset="0.000" stop-color="#ff0000"/><stop offset="0.025" stop-color="#fb3300"/><stop offset="0.050" stop-color="#f74a00"/><stop offset="0.075" stop-color="#f25b00"/><stop offset="0.100" stop-color="#ed6a00"/><stop offset="0.125" stop-color="#e87600"/><stop offset="0.150" stop-color="#e38200"/><stop offset="0.175" stop-color="#dd8d00"/><stop offset="0.200" stop-color="#d79800"/><stop offset="0.225" stop-color="#d0a100"/><stop offset="0.250" stop-color="#c9ab00"/><stop offset="0.275" stop-color="#c1b400"/><stop offset="0.300" stop-color="#b8bd00"/><stop offset="0.325" stop-color="#aec600"/><stop offset="0.350" stop-color="#a4ce00"/><stop offset="0.375" stop-color="#98d700"/><stop offset="0.400" stop-color="#8adf00"/><stop offset="0.425" stop-color="#7ae700"/><stop offset="0.450" stop-color="#65ef00"/><stop offset="0.475" stop-color="#49f700"/><stop offset="0.500" stop-color="#00ff00"/><stop offset="0.525" stop-color="#39f431"/><stop offset="0.550" stop-color="#4fe947"/><stop offset="0.575" stop-color="#5ddf57"/><stop offset="0.600" stop-color="#67d465"/><stop offset="0.625" stop-color="#6fc972"/><stop offset="0.650" stop-color="#75bf7d"/><stop offset="0.675" stop-color="#79b488"/><stop offset="0.700" stop-color="#7ca993"/><stop offset="0.725" stop-color="#7d9e9c"/><stop offset="0.750" stop-color="#7d93a6"/><stop offset="0.775" stop-color="#7d88af"/><stop offset="0.800" stop-color="#7a7db9"/><stop offset="0.825" stop-color="#7772c2"/><stop offset="0.850" stop-color="#7267cb"/><stop offset="0.875" stop-color="#6c5bd3"/><stop offset="0.900" stop-color="#644fdc"/><stop offset="0.925" stop-color="#5941e5"/><stop offset="0.950" stop-color="#4b33ee"/><stop offset="0.975" stop-color="#3621f6"/><stop offset="1.000" stop-color="#0000ff"/></linearGradient></defs>
<rect x="506.8" y="83.9" width="15.2" height="78.1" fill="url(#gA)"/>
<line x1="506.8" y1="103.3" x2="509.84" y2="103.3" stroke="#fff" stroke-width="0.9" opacity="0.85"/>
<line x1="518.96" y1="103.3" x2="522.0" y2="103.3" stroke="#fff" stroke-width="0.9" opacity="0.85"/>
<line x1="506.8" y1="124.0" x2="509.84" y2="124.0" stroke="#fff" stroke-width="0.9" opacity="0.85"/>
<line x1="518.96" y1="124.0" x2="522.0" y2="124.0" stroke="#fff" stroke-width="0.9" opacity="0.85"/>
<line x1="506.8" y1="143.0" x2="509.84" y2="143.0" stroke="#fff" stroke-width="0.9" opacity="0.85"/>
<line x1="518.96" y1="143.0" x2="522.0" y2="143.0" stroke="#fff" stroke-width="0.9" opacity="0.85"/>
<text x="526.60" y="106.67" font-size="8.8" text-anchor="start" font-weight="normal" fill="#222" >0.75</text>
<text x="526.60" y="126.57" font-size="8.8" text-anchor="start" font-weight="normal" fill="#222" >0.50</text>
<text x="526.60" y="145.87" font-size="8.8" text-anchor="start" font-weight="normal" fill="#222" >0.25</text>
<text transform="translate(506.40,77.30) scale(1.050,1)" font-size="10" text-anchor="start" font-weight="normal" fill="#222" >cos2</text>
<line x1="112.90" y1="336.5" x2="112.90" y2="592" stroke="#ececec" stroke-width="0.8"/>
<line x1="187.57" y1="336.5" x2="187.57" y2="592" stroke="#ececec" stroke-width="0.8"/>
<line x1="262.25" y1="336.5" x2="262.25" y2="592" stroke="#ececec" stroke-width="0.8"/>
<line x1="336.93" y1="336.5" x2="336.93" y2="592" stroke="#ececec" stroke-width="0.8"/>
<line x1="411.60" y1="336.5" x2="411.60" y2="592" stroke="#ececec" stroke-width="0.8"/>
<line x1="486.27" y1="336.5" x2="486.27" y2="592" stroke="#ececec" stroke-width="0.8"/>
<line x1="74" y1="544.30" x2="487.5" y2="544.30" stroke="#ececec" stroke-width="0.8"/>
<line x1="74" y1="485.35" x2="487.5" y2="485.35" stroke="#ececec" stroke-width="0.8"/>
<line x1="74" y1="426.40" x2="487.5" y2="426.40" stroke="#ececec" stroke-width="0.8"/>
<line x1="74" y1="367.45" x2="487.5" y2="367.45" stroke="#ececec" stroke-width="0.8"/>
<line x1="112.80" y1="336.5" x2="112.80" y2="592" stroke="#4a4a4a" stroke-width="1.4" stroke-dasharray="3.0 3.2" stroke-dashoffset="2.6"/>
<line x1="74" y1="544.40" x2="487.5" y2="544.40" stroke="#4a4a4a" stroke-width="1.4" stroke-dasharray="3.0 3.2"/>
<circle cx="472.7" cy="352.0" r="2.2" fill="#c8001a"/>
<circle cx="172.6" cy="427.7" r="1.75" fill="#d44a18"/>
<circle cx="169.8" cy="435.3" r="1.75" fill="#d44a18"/>
<circle cx="161.9" cy="448.5" r="1.75" fill="#d44a18"/>
<circle cx="157.1" cy="454.9" r="1.75" fill="#d44a18"/>
<circle cx="155.8" cy="456.6" r="1.75" fill="#d44a18"/>
<circle cx="154.5" cy="458.6" r="1.75" fill="#d44a18"/>
<circle cx="134.7" cy="486.0" r="1.75" fill="#d44a18"/>
<circle cx="99.4" cy="540.8" r="1.75" fill="#fc2d00"/>
<circle cx="98.6" cy="543.2" r="1.75" fill="#fa3900"/>
<circle cx="100.6" cy="542.5" r="1.75" fill="#ff0000"/>
<circle cx="100.0" cy="539.5" r="1.75" fill="#f74a00"/>
<circle cx="101.3" cy="541.0" r="1.75" fill="#f35800"/>
<circle cx="104.5" cy="541.0" r="1.75" fill="#7de600"/>
<circle cx="106.0" cy="540.5" r="1.75" fill="#65ef00"/>
<circle cx="105.0" cy="543.5" r="1.75" fill="#41f900"/>
<circle cx="107.0" cy="542.8" r="1.75" fill="#00ff00"/>
<circle cx="106.2" cy="539.8" r="1.75" fill="#8adf00"/>
<circle cx="108.8" cy="543.5" r="1.75" fill="#7ca993"/>
<circle cx="110.3" cy="542.5" r="1.75" fill="#7c86b1"/>
<circle cx="109.5" cy="540.5" r="1.75" fill="#7d93a6"/>
<circle cx="112.3" cy="541.4" r="1.75" fill="#6855d8"/>
<circle cx="110.9" cy="543.7" r="1.75" fill="#6049e0"/>
<circle cx="110.8" cy="543.5" r="1.75" fill="#533be9"/>
<circle cx="112.9" cy="540.9" r="1.75" fill="#563de8"/>
<circle cx="112.8" cy="545.5" r="1.75" fill="#573fe7"/>
<circle cx="111.7" cy="544.3" r="1.75" fill="#6f60d0"/>
<circle cx="113.7" cy="542.9" r="1.75" fill="#7061cf"/>
<circle cx="110.8" cy="545.7" r="1.75" fill="#5d46e2"/>
<circle cx="111.3" cy="541.2" r="1.75" fill="#5e47e2"/>
<circle cx="115.0" cy="541.6" r="1.75" fill="#6652da"/>
<circle cx="114.0" cy="542.7" r="1.75" fill="#6551db"/>
<circle cx="110.8" cy="540.9" r="1.75" fill="#5a42e4"/>
<circle cx="126.6" cy="540.2" r="1.75" fill="#6651da"/>
<circle cx="125.0" cy="540.3" r="1.75" fill="#6551db"/>
<circle cx="128.5" cy="541.3" r="1.75" fill="#644edc"/>
<circle cx="124.8" cy="540.6" r="1.75" fill="#7267cb"/>
<circle cx="127.4" cy="539.7" r="1.75" fill="#746bc8"/>
<circle cx="117.0" cy="540.2" r="1.75" fill="#7062ce"/>
<circle cx="117.6" cy="540.5" r="1.75" fill="#5d46e2"/>
<circle cx="126.4" cy="541.6" r="1.75" fill="#6c5bd3"/>
<circle cx="129.9" cy="539.8" r="1.75" fill="#6f60d0"/>
<circle cx="125.1" cy="540.8" r="1.75" fill="#6a57d6"/>
<circle cx="129.3" cy="542.3" r="1.75" fill="#6a57d6"/>
<circle cx="126.3" cy="538.7" r="1.75" fill="#6f60cf"/>
<circle cx="126.0" cy="542.5" r="1.75" fill="#7165cc"/>
<circle cx="119.8" cy="540.0" r="1.75" fill="#6e5fd0"/>
<circle cx="120.5" cy="539.5" r="1.75" fill="#7b7eb8"/>
<circle cx="123.0" cy="538.5" r="1.75" fill="#7d8aae"/>
<circle cx="126.0" cy="539.8" r="1.75" fill="#7b82b5"/>
<circle cx="128.5" cy="538.2" r="1.75" fill="#7b81b6"/>
<circle cx="130.5" cy="539.8" r="1.75" fill="#7b7fb7"/>
<circle cx="139.7" cy="537.8" r="1.75" fill="#7d92a7"/>
<circle cx="142.5" cy="538.8" r="1.75" fill="#7b81b6"/>
<circle cx="147.9" cy="538.5" r="1.75" fill="#7c84b3"/>
<circle cx="173.3" cy="540.4" r="1.75" fill="#7c88b0"/>
<circle cx="179.3" cy="537.6" r="1.75" fill="#7d94a5"/>
<circle cx="181.3" cy="537.6" r="1.75" fill="#7b80b7"/>
<circle cx="183.1" cy="537.8" r="1.75" fill="#7d89af"/>
<circle cx="202.5" cy="537.8" r="1.75" fill="#7d8cac"/>
<circle cx="205.0" cy="537.3" r="1.75" fill="#7d95a5"/>
<circle cx="208.0" cy="537.2" r="1.75" fill="#7d93a6"/>
<circle cx="211.0" cy="537.2" r="1.75" fill="#7d94a5"/>
<circle cx="214.2" cy="537.6" r="1.75" fill="#7c85b2"/>
<circle cx="220.5" cy="535.7" r="1.75" fill="#7d88af"/>
<circle cx="113.8" cy="547.9" r="1.75" fill="#7a7cba"/>
<circle cx="113.6" cy="545.8" r="1.75" fill="#7061cf"/>
<circle cx="115.0" cy="546.9" r="1.75" fill="#7670c4"/>
<circle cx="115.0" cy="545.4" r="1.75" fill="#746ac8"/>
<circle cx="116.4" cy="547.3" r="1.75" fill="#7b7eb8"/>
<circle cx="116.8" cy="547.1" r="1.75" fill="#7772c2"/>
<circle cx="118.1" cy="545.9" r="1.75" fill="#7a7db9"/>
<circle cx="118.2" cy="548.3" r="1.75" fill="#797abc"/>
<circle cx="119.1" cy="547.0" r="1.75" fill="#7061cf"/>
<circle cx="119.4" cy="546.0" r="1.75" fill="#6f60d0"/>
<circle cx="120.2" cy="546.5" r="1.75" fill="#746bc7"/>
<circle cx="120.0" cy="546.0" r="1.75" fill="#7164cc"/>
<circle cx="121.3" cy="547.2" r="1.75" fill="#6f61cf"/>
<circle cx="122.2" cy="548.0" r="1.75" fill="#7265cc"/>
<circle cx="122.8" cy="547.3" r="1.75" fill="#766fc4"/>
<circle cx="122.6" cy="548.8" r="1.75" fill="#7c85b2"/>
<circle cx="124.4" cy="547.8" r="1.75" fill="#7266cb"/>
<circle cx="123.9" cy="547.4" r="1.75" fill="#756cc6"/>
<circle cx="126.1" cy="547.0" r="1.75" fill="#7164cc"/>
<circle cx="126.2" cy="548.1" r="1.75" fill="#7369c9"/>
<circle cx="127.1" cy="546.8" r="1.75" fill="#7978bd"/>
<circle cx="127.6" cy="549.3" r="1.75" fill="#7b7eb8"/>
<circle cx="128.0" cy="547.9" r="1.75" fill="#756cc6"/>
<circle cx="128.6" cy="548.4" r="1.75" fill="#7b82b5"/>
<circle cx="129.4" cy="547.6" r="1.75" fill="#7c84b3"/>
<circle cx="130.2" cy="549.5" r="1.75" fill="#7c84b3"/>
<circle cx="131.3" cy="549.3" r="1.75" fill="#7671c3"/>
<circle cx="130.9" cy="548.2" r="1.75" fill="#7469c9"/>
<circle cx="131.6" cy="548.1" r="1.75" fill="#7773c1"/>
<circle cx="132.4" cy="550.1" r="1.75" fill="#797abc"/>
<circle cx="134.0" cy="550.3" r="1.75" fill="#7d8dac"/>
<circle cx="133.3" cy="548.0" r="1.75" fill="#7773c1"/>
<circle cx="134.4" cy="548.1" r="1.75" fill="#7b82b5"/>
<circle cx="135.3" cy="550.0" r="1.75" fill="#7a7db9"/>
<circle cx="136.3" cy="550.0" r="1.75" fill="#7670c3"/>
<circle cx="136.3" cy="550.4" r="1.75" fill="#7d89af"/>
<circle cx="137.7" cy="549.2" r="1.75" fill="#7875c0"/>
<circle cx="137.7" cy="548.8" r="1.75" fill="#7d8bad"/>
<circle cx="139.3" cy="549.1" r="1.75" fill="#7a7eb8"/>
<circle cx="139.2" cy="550.1" r="1.75" fill="#7876bf"/>
<circle cx="139.6" cy="548.5" r="1.75" fill="#7d91a8"/>
<circle cx="140.4" cy="548.5" r="1.75" fill="#7d8eab"/>
<circle cx="141.9" cy="550.2" r="1.75" fill="#7b7eb8"/>
<circle cx="141.4" cy="548.6" r="1.75" fill="#7772c2"/>
<circle cx="143.2" cy="550.3" r="1.75" fill="#7c86b2"/>
<circle cx="143.1" cy="549.6" r="1.75" fill="#7d92a7"/>
<circle cx="144.3" cy="549.1" r="1.75" fill="#7a7db9"/>
<circle cx="143.7" cy="549.2" r="1.75" fill="#7d89af"/>
<circle cx="144.9" cy="549.9" r="1.75" fill="#797abb"/>
<circle cx="145.7" cy="549.7" r="1.75" fill="#7c85b2"/>
<circle cx="146.6" cy="551.5" r="1.75" fill="#7c85b2"/>
<circle cx="147.0" cy="550.3" r="1.75" fill="#7d89af"/>
<circle cx="147.8" cy="549.0" r="1.75" fill="#7c87b1"/>
<circle cx="147.4" cy="548.9" r="1.75" fill="#7d94a6"/>
<circle cx="148.7" cy="550.5" r="1.75" fill="#7d92a7"/>
<circle cx="149.2" cy="550.0" r="1.75" fill="#7d8bad"/>
<circle cx="150.5" cy="551.5" r="1.75" fill="#7a7eb8"/>
<circle cx="150.5" cy="549.9" r="1.75" fill="#7c84b3"/>
<circle cx="152.0" cy="550.8" r="1.75" fill="#7d8faa"/>
<circle cx="152.0" cy="552.1" r="1.75" fill="#7d8bae"/>
<circle cx="153.1" cy="551.0" r="1.75" fill="#7d8eab"/>
<circle cx="153.2" cy="550.8" r="1.75" fill="#7d8faa"/>
<circle cx="154.3" cy="552.4" r="1.75" fill="#7d96a4"/>
<circle cx="154.8" cy="552.4" r="1.75" fill="#7c86b1"/>
<circle cx="155.7" cy="552.6" r="1.75" fill="#7d9c9f"/>
<circle cx="155.2" cy="550.1" r="1.75" fill="#7d8eab"/>
<circle cx="156.4" cy="550.6" r="1.75" fill="#7b82b5"/>
<circle cx="157.1" cy="552.2" r="1.75" fill="#7d9f9c"/>
<circle cx="157.8" cy="552.2" r="1.75" fill="#7d98a2"/>
<circle cx="157.8" cy="552.7" r="1.75" fill="#7da299"/>
<circle cx="159.2" cy="553.0" r="1.75" fill="#7d90a9"/>
<circle cx="159.5" cy="553.1" r="1.75" fill="#7d9f9c"/>
<circle cx="160.4" cy="551.6" r="1.75" fill="#7d95a5"/>
<circle cx="160.6" cy="550.9" r="1.75" fill="#7d8eab"/>
<circle cx="162.4" cy="550.5" r="1.75" fill="#7d97a3"/>
<circle cx="162.0" cy="550.5" r="1.75" fill="#7d90a9"/>
<circle cx="163.5" cy="552.1" r="1.75" fill="#7c87b0"/>
<circle cx="164.0" cy="552.9" r="1.75" fill="#7ca794"/>
<circle cx="164.2" cy="551.5" r="1.75" fill="#7c88b0"/>
<circle cx="165.0" cy="551.5" r="1.75" fill="#7d8bad"/>
<circle cx="165.9" cy="553.6" r="1.75" fill="#7da497"/>
<circle cx="165.7" cy="551.3" r="1.75" fill="#7ca794"/>
<circle cx="167.4" cy="553.1" r="1.75" fill="#7d8cad"/>
<circle cx="166.8" cy="553.1" r="1.75" fill="#7d97a3"/>
<circle cx="168.1" cy="554.0" r="1.75" fill="#7da09b"/>
<circle cx="169.0" cy="551.4" r="1.75" fill="#7ca794"/>
<circle cx="169.4" cy="553.9" r="1.75" fill="#7d9ba0"/>
<circle cx="169.7" cy="552.9" r="1.75" fill="#7bab91"/>
<circle cx="170.9" cy="551.8" r="1.75" fill="#7d9e9c"/>
<circle cx="170.9" cy="551.7" r="1.75" fill="#7d92a8"/>
<circle cx="172.0" cy="552.2" r="1.75" fill="#7d98a2"/>
<circle cx="172.3" cy="553.8" r="1.75" fill="#7d97a3"/>
<circle cx="173.8" cy="552.2" r="1.75" fill="#7d9aa0"/>
<circle cx="173.2" cy="552.4" r="1.75" fill="#7d8faa"/>
<circle cx="175.4" cy="553.5" r="1.75" fill="#7d96a4"/>
<circle cx="175.1" cy="554.6" r="1.75" fill="#7d93a6"/>
<circle cx="176.8" cy="553.3" r="1.75" fill="#7da299"/>
<circle cx="176.8" cy="553.2" r="1.75" fill="#7da299"/>
<circle cx="177.9" cy="555.1" r="1.75" fill="#7d9d9d"/>
<circle cx="178.1" cy="554.2" r="1.75" fill="#7ca894"/>
<circle cx="178.9" cy="553.3" r="1.75" fill="#7d95a5"/>
<circle cx="178.6" cy="552.5" r="1.75" fill="#7bac8f"/>
<circle cx="180.0" cy="552.9" r="1.75" fill="#7d97a3"/>
<circle cx="180.7" cy="555.0" r="1.75" fill="#7bab91"/>
<circle cx="181.3" cy="553.3" r="1.75" fill="#7d9f9c"/>
<circle cx="181.6" cy="553.0" r="1.75" fill="#7da497"/>
<circle cx="182.6" cy="555.6" r="1.75" fill="#78b885"/>
<circle cx="183.0" cy="553.4" r="1.75" fill="#78b785"/>
<circle cx="184.0" cy="553.9" r="1.75" fill="#7d97a3"/>
<circle cx="184.1" cy="554.2" r="1.75" fill="#7ca893"/>
<circle cx="151.4" cy="545.7" r="1.75" fill="#56f400"/>
<circle cx="153.5" cy="545.8" r="1.75" fill="#31f729"/>
<circle cx="155.0" cy="545.6" r="1.75" fill="#3cf333"/>
<circle cx="156.8" cy="545.8" r="1.75" fill="#62f000"/>
<circle cx="158.7" cy="546.7" r="1.75" fill="#6aed00"/>
<circle cx="159.8" cy="547.1" r="1.75" fill="#42f900"/>
<circle cx="161.9" cy="547.4" r="1.75" fill="#25fa1e"/>
<circle cx="163.6" cy="546.9" r="1.75" fill="#39f530"/>
<circle cx="165.1" cy="547.5" r="1.75" fill="#67ef00"/>
<circle cx="166.4" cy="547.5" r="1.75" fill="#27fa20"/>
<circle cx="168.4" cy="546.8" r="1.75" fill="#7ce600"/>
<circle cx="170.1" cy="547.7" r="1.75" fill="#61f100"/>
<circle cx="170.9" cy="547.5" r="1.75" fill="#6eec00"/>
<circle cx="172.6" cy="545.6" r="1.75" fill="#28fa21"/>
<circle cx="174.5" cy="545.8" r="1.75" fill="#7ce600"/>
<circle cx="176.2" cy="547.6" r="1.75" fill="#67ef00"/>
<circle cx="178.0" cy="547.2" r="1.75" fill="#3ef236"/>
<circle cx="179.2" cy="548.2" r="1.75" fill="#56f400"/>
<circle cx="181.1" cy="548.0" r="1.75" fill="#35f62d"/>
<circle cx="182.1" cy="546.5" r="1.75" fill="#34f62c"/>
<circle cx="184.3" cy="548.5" r="1.75" fill="#11fe0d"/>
<circle cx="185.5" cy="549.7" r="1.75" fill="#55f400"/>
<circle cx="187.5" cy="547.6" r="1.75" fill="#6dec00"/>
<circle cx="188.3" cy="548.3" r="1.75" fill="#69ee00"/>
<circle cx="190.7" cy="546.2" r="1.75" fill="#16fe00"/>
<circle cx="191.4" cy="547.0" r="1.75" fill="#5ff100"/>
<circle cx="193.8" cy="545.8" r="1.75" fill="#1efd00"/>
<circle cx="194.9" cy="549.1" r="1.75" fill="#6ced00"/>
<circle cx="196.8" cy="548.3" r="1.75" fill="#50f500"/>
<circle cx="198.0" cy="546.2" r="1.75" fill="#81e400"/>
<circle cx="199.4" cy="551.0" r="1.75" fill="#85e200"/>
<circle cx="202.2" cy="548.2" r="1.75" fill="#7be700"/>
<circle cx="202.9" cy="548.2" r="1.75" fill="#1efd00"/>
<circle cx="204.9" cy="551.3" r="1.75" fill="#0efe0a"/>
<circle cx="206.9" cy="546.4" r="1.75" fill="#59f300"/>
<circle cx="208.0" cy="546.4" r="1.75" fill="#7be700"/>
<circle cx="209.3" cy="551.3" r="1.75" fill="#6fec00"/>
<circle cx="210.6" cy="551.5" r="1.75" fill="#54f500"/>
<circle cx="212.7" cy="545.5" r="1.75" fill="#54f400"/>
<circle cx="214.2" cy="547.6" r="1.75" fill="#27fa20"/>
<circle cx="215.4" cy="547.8" r="1.75" fill="#7de600"/>
<circle cx="217.1" cy="551.0" r="1.75" fill="#7de600"/>
<circle cx="219.7" cy="552.4" r="1.75" fill="#70eb00"/>
<circle cx="220.7" cy="547.7" r="1.75" fill="#3ff900"/>
<circle cx="222.2" cy="553.3" r="1.75" fill="#62f000"/>
<circle cx="223.5" cy="548.9" r="1.75" fill="#21fd00"/>
<circle cx="225.3" cy="546.3" r="1.75" fill="#98d700"/>
<circle cx="226.9" cy="553.2" r="1.75" fill="#ec6c00"/>
<circle cx="228.6" cy="549.8" r="1.75" fill="#bfb600"/>
<circle cx="230.8" cy="553.7" r="1.75" fill="#fc2800"/>
<circle cx="232.5" cy="551.0" r="1.75" fill="#d49b00"/>
<circle cx="233.1" cy="550.4" r="1.75" fill="#cfa300"/>
<circle cx="235.5" cy="552.1" r="1.75" fill="#f25c00"/>
<circle cx="236.3" cy="551.4" r="1.75" fill="#c2b300"/>
<circle cx="238.4" cy="554.2" r="1.75" fill="#e97500"/>
<circle cx="240.3" cy="548.8" r="1.75" fill="#c2b200"/>
<circle cx="241.8" cy="554.9" r="1.75" fill="#ed6c00"/>
<circle cx="241.5" cy="548.4" r="1.75" fill="#caa900"/>
<circle cx="242.8" cy="547.1" r="1.75" fill="#48f700"/>
<circle cx="242.9" cy="554.4" r="1.75" fill="#f35800"/>
<circle cx="244.7" cy="554.5" r="1.75" fill="#ff0200"/>
<circle cx="244.3" cy="546.9" r="1.75" fill="#4ef600"/>
<circle cx="246.1" cy="549.0" r="1.75" fill="#bbba00"/>
<circle cx="246.9" cy="548.1" r="1.75" fill="#81e400"/>
<circle cx="247.9" cy="553.2" r="1.75" fill="#f16000"/>
<circle cx="247.8" cy="550.9" r="1.75" fill="#c5b000"/>
<circle cx="250.2" cy="546.1" r="1.75" fill="#5df200"/>
<circle cx="249.8" cy="546.8" r="1.75" fill="#7ae700"/>
<circle cx="250.9" cy="554.6" r="1.75" fill="#eb6f00"/>
<circle cx="251.1" cy="548.1" r="1.75" fill="#6eec00"/>
<circle cx="253.2" cy="555.7" r="1.75" fill="#fc2f00"/>
<circle cx="253.1" cy="545.7" r="1.75" fill="#1efd00"/>
<circle cx="254.5" cy="555.2" r="1.75" fill="#f25a00"/>
<circle cx="254.9" cy="545.5" r="1.75" fill="#6dec00"/>
<circle cx="256.6" cy="554.6" r="1.75" fill="#fc2e00"/>
<circle cx="255.6" cy="548.2" r="1.75" fill="#3bfa00"/>
<circle cx="258.1" cy="551.3" r="1.75" fill="#cea400"/>
<circle cx="257.9" cy="553.6" r="1.75" fill="#f74900"/>
<circle cx="258.6" cy="550.7" r="1.75" fill="#caa900"/>
<circle cx="259.7" cy="554.4" r="1.75" fill="#ec6e00"/>
<circle cx="260.4" cy="552.9" r="1.75" fill="#c2b200"/>
<circle cx="261.0" cy="548.4" r="1.75" fill="#87e100"/>
<circle cx="262.4" cy="546.8" r="1.75" fill="#2ffc00"/>
<circle cx="262.1" cy="552.3" r="1.75" fill="#c5af00"/>
<circle cx="263.8" cy="552.6" r="1.75" fill="#b8bd00"/>
<circle cx="264.2" cy="550.9" r="1.75" fill="#d69900"/>
<circle cx="265.3" cy="556.1" r="1.75" fill="#f25a00"/>
<circle cx="265.8" cy="548.5" r="1.75" fill="#a1d000"/>
<circle cx="267.2" cy="549.2" r="1.75" fill="#b9bc00"/>
<circle cx="266.9" cy="553.7" r="1.75" fill="#f15f00"/>
<circle cx="268.5" cy="553.7" r="1.75" fill="#fd1f00"/>
<circle cx="268.7" cy="545.9" r="1.75" fill="#66ef00"/>
<circle cx="270.8" cy="554.0" r="1.75" fill="#eb7000"/>
<circle cx="270.0" cy="554.7" r="1.75" fill="#f35800"/>
<circle cx="272.4" cy="557.7" r="1.75" fill="#ee6800"/>
<circle cx="272.3" cy="548.4" r="1.75" fill="#54f500"/>
<circle cx="273.6" cy="549.3" r="1.75" fill="#d59a00"/>
<circle cx="273.5" cy="547.9" r="1.75" fill="#54f400"/>
<circle cx="274.8" cy="554.1" r="1.75" fill="#fe1900"/>
<circle cx="275.8" cy="550.6" r="1.75" fill="#bfb600"/>
<circle cx="276.3" cy="547.3" r="1.75" fill="#28fd00"/>
<circle cx="277.3" cy="550.6" r="1.75" fill="#d49c00"/>
<circle cx="278.9" cy="555.2" r="1.75" fill="#ff0200"/>
<circle cx="278.9" cy="549.8" r="1.75" fill="#beb700"/>
<circle cx="280.2" cy="555.5" r="1.75" fill="#e67c00"/>
<circle cx="279.8" cy="550.6" r="1.75" fill="#c5b000"/>
<circle cx="281.3" cy="547.8" r="1.75" fill="#04ff00"/>
<circle cx="281.1" cy="550.2" r="1.75" fill="#d59900"/>
<circle cx="283.0" cy="558.7" r="1.75" fill="#eb6f00"/>
<circle cx="283.1" cy="556.7" r="1.75" fill="#fb3300"/>
<circle cx="284.6" cy="546.2" r="1.75" fill="#77e800"/>
<circle cx="284.6" cy="558.2" r="1.75" fill="#eb7000"/>
<circle cx="286.3" cy="558.0" r="1.75" fill="#e67c00"/>
<circle cx="285.8" cy="556.8" r="1.75" fill="#fa3b00"/>
<circle cx="288.5" cy="546.0" r="1.75" fill="#2cfc00"/>
<circle cx="288.5" cy="549.1" r="1.75" fill="#91db00"/>
<circle cx="290.1" cy="550.3" r="1.75" fill="#c1b300"/>
<circle cx="289.9" cy="554.3" r="1.75" fill="#c1b400"/>
<circle cx="290.6" cy="550.1" r="1.75" fill="#c1b300"/>
<circle cx="291.4" cy="556.4" r="1.75" fill="#fd2100"/>
<circle cx="292.5" cy="559.2" r="1.75" fill="#e67c00"/>
<circle cx="293.3" cy="552.4" r="1.75" fill="#d59900"/>
<circle cx="294.3" cy="551.2" r="1.75" fill="#c1b400"/>
<circle cx="294.0" cy="552.8" r="1.75" fill="#d59a00"/>
<circle cx="296.4" cy="557.4" r="1.75" fill="#f93f00"/>
<circle cx="295.8" cy="557.0" r="1.75" fill="#f64e00"/>
<circle cx="297.9" cy="550.3" r="1.75" fill="#c4b000"/>
<circle cx="297.9" cy="546.7" r="1.75" fill="#4ff600"/>
<circle cx="298.6" cy="549.3" r="1.75" fill="#2dfc00"/>
<circle cx="299.8" cy="553.9" r="1.75" fill="#c3b100"/>
<circle cx="300.5" cy="559.1" r="1.75" fill="#ff0700"/>
<circle cx="300.8" cy="546.8" r="1.75" fill="#37fa00"/>
<circle cx="302.1" cy="556.5" r="1.75" fill="#f25d00"/>
<circle cx="302.6" cy="552.0" r="1.75" fill="#cca600"/>
<circle cx="304.2" cy="557.2" r="1.75" fill="#fc2f00"/>
<circle cx="303.8" cy="547.4" r="1.75" fill="#98d600"/>
<circle cx="305.9" cy="554.5" r="1.75" fill="#c5b000"/>
<circle cx="305.3" cy="548.6" r="1.75" fill="#58f300"/>
<circle cx="307.3" cy="547.9" r="1.75" fill="#9cd400"/>
<circle cx="307.8" cy="550.7" r="1.75" fill="#c5af00"/>
<circle cx="309.2" cy="553.7" r="1.75" fill="#c0b500"/>
<circle cx="308.3" cy="556.0" r="1.75" fill="#ff0600"/>
<circle cx="310.8" cy="553.2" r="1.75" fill="#d29f00"/>
<circle cx="310.2" cy="560.4" r="1.75" fill="#e67b00"/>
<circle cx="312.6" cy="547.5" r="1.75" fill="#b9bc00"/>
<circle cx="311.8" cy="555.1" r="1.75" fill="#d59a00"/>
<circle cx="313.3" cy="559.9" r="1.75" fill="#f25c00"/>
<circle cx="313.1" cy="558.4" r="1.75" fill="#fe1a00"/>
<circle cx="314.9" cy="555.5" r="1.75" fill="#cca600"/>
<circle cx="314.8" cy="551.7" r="1.75" fill="#bdb800"/>
<circle cx="317.0" cy="549.8" r="1.75" fill="#c9aa00"/>
<circle cx="316.6" cy="548.9" r="1.75" fill="#b1c400"/>
<circle cx="318.2" cy="557.1" r="1.75" fill="#ea7100"/>
<circle cx="318.5" cy="549.0" r="1.75" fill="#d0a100"/>
<circle cx="319.9" cy="546.6" r="1.75" fill="#b5c000"/>
<circle cx="319.5" cy="555.0" r="1.75" fill="#cda600"/>
<circle cx="321.5" cy="548.3" r="1.75" fill="#cda600"/>
<circle cx="322.1" cy="550.4" r="1.75" fill="#beb700"/>
<circle cx="323.0" cy="551.0" r="1.75" fill="#cba900"/>
<circle cx="323.8" cy="552.8" r="1.75" fill="#d39d00"/>
<circle cx="325.1" cy="551.9" r="1.75" fill="#bfb600"/>
<circle cx="325.3" cy="549.1" r="1.75" fill="#b1c400"/>
<circle cx="326.3" cy="553.0" r="1.75" fill="#d29f00"/>
<circle cx="326.0" cy="561.2" r="1.75" fill="#f25b00"/>
<circle cx="172.2" cy="551.4" r="1.75" fill="#2efc00"/>
<circle cx="172.1" cy="557.2" r="1.75" fill="#60dc5c"/>
<circle cx="171.6" cy="553.7" r="1.75" fill="#08ff00"/>
<circle cx="174.0" cy="553.3" r="1.75" fill="#1cfe00"/>
<circle cx="173.9" cy="552.2" r="1.75" fill="#0bfe08"/>
<circle cx="173.1" cy="557.7" r="1.75" fill="#56e54e"/>
<circle cx="175.0" cy="557.8" r="1.75" fill="#87e100"/>
<circle cx="174.9" cy="552.0" r="1.75" fill="#81e400"/>
<circle cx="175.4" cy="557.5" r="1.75" fill="#48f700"/>
<circle cx="176.2" cy="552.8" r="1.75" fill="#6ced00"/>
<circle cx="176.9" cy="554.4" r="1.75" fill="#75e900"/>
<circle cx="176.4" cy="553.0" r="1.75" fill="#53e74b"/>
<circle cx="177.5" cy="555.3" r="1.75" fill="#37f52f"/>
<circle cx="178.5" cy="553.5" r="1.75" fill="#60f100"/>
<circle cx="178.3" cy="552.2" r="1.75" fill="#33fb00"/>
<circle cx="179.0" cy="552.4" r="1.75" fill="#74ea00"/>
<circle cx="179.7" cy="556.0" r="1.75" fill="#2efc00"/>
<circle cx="179.6" cy="554.1" r="1.75" fill="#2ef826"/>
<circle cx="180.9" cy="555.0" r="1.75" fill="#52f500"/>
<circle cx="181.1" cy="555.1" r="1.75" fill="#66d663"/>
<circle cx="181.3" cy="555.4" r="1.75" fill="#51e849"/>
<circle cx="182.1" cy="557.5" r="1.75" fill="#20fb1a"/>
<circle cx="182.1" cy="555.5" r="1.75" fill="#5fdd59"/>
<circle cx="182.4" cy="555.2" r="1.75" fill="#60dc5b"/>
<circle cx="184.2" cy="555.9" r="1.75" fill="#64d861"/>
<circle cx="184.3" cy="553.1" r="1.75" fill="#62f000"/>
<circle cx="184.0" cy="555.9" r="1.75" fill="#63d95f"/>
<circle cx="185.1" cy="555.2" r="1.75" fill="#84e200"/>
<circle cx="185.8" cy="558.3" r="1.75" fill="#8adf00"/>
<circle cx="186.1" cy="558.0" r="1.75" fill="#56e54f"/>
<circle cx="187.5" cy="556.1" r="1.75" fill="#85e200"/>
<circle cx="187.5" cy="554.0" r="1.75" fill="#6ced00"/>
<circle cx="187.3" cy="553.3" r="1.75" fill="#3ef236"/>
<circle cx="188.2" cy="554.1" r="1.75" fill="#7de600"/>
<circle cx="188.5" cy="558.4" r="1.75" fill="#5be055"/>
<circle cx="188.2" cy="559.1" r="1.75" fill="#54e64d"/>
<circle cx="189.4" cy="556.5" r="1.75" fill="#44ef3c"/>
<circle cx="190.5" cy="554.4" r="1.75" fill="#59e253"/>
<circle cx="189.6" cy="557.6" r="1.75" fill="#7de600"/>
<circle cx="191.5" cy="558.5" r="1.75" fill="#5ede59"/>
<circle cx="191.9" cy="557.5" r="1.75" fill="#3df334"/>
<circle cx="192.0" cy="557.0" r="1.75" fill="#3afa00"/>
<circle cx="193.2" cy="554.2" r="1.75" fill="#89e000"/>
<circle cx="192.7" cy="556.1" r="1.75" fill="#6eec00"/>
<circle cx="192.8" cy="560.0" r="1.75" fill="#39fa00"/>
<circle cx="194.1" cy="558.7" r="1.75" fill="#26fa1f"/>
<circle cx="194.9" cy="558.5" r="1.75" fill="#64d860"/>
<circle cx="195.1" cy="555.4" r="1.75" fill="#4df600"/>
<circle cx="195.8" cy="557.7" r="1.75" fill="#c1b400"/>
<circle cx="195.6" cy="553.9" r="1.75" fill="#aaca00"/>
<circle cx="196.0" cy="557.9" r="1.75" fill="#b9bc00"/>
<circle cx="197.2" cy="559.9" r="1.75" fill="#aec600"/>
<circle cx="196.9" cy="558.3" r="1.75" fill="#a9ca00"/>
<circle cx="197.3" cy="556.3" r="1.75" fill="#adc700"/>
<circle cx="199.1" cy="555.7" r="1.75" fill="#beb700"/>
<circle cx="199.0" cy="555.5" r="1.75" fill="#c0b500"/>
<circle cx="198.7" cy="555.1" r="1.75" fill="#caaa00"/>
<circle cx="200.7" cy="555.3" r="1.75" fill="#acc800"/>
<circle cx="200.4" cy="560.0" r="1.75" fill="#c5af00"/>
<circle cx="200.7" cy="556.1" r="1.75" fill="#a9cb00"/>
<circle cx="202.2" cy="558.2" r="1.75" fill="#b6bf00"/>
<circle cx="202.3" cy="557.4" r="1.75" fill="#caaa00"/>
<circle cx="201.5" cy="556.1" r="1.75" fill="#c9ab00"/>
<circle cx="203.2" cy="558.1" r="1.75" fill="#b8bd00"/>
<circle cx="202.9" cy="555.1" r="1.75" fill="#c5af00"/>
<circle cx="203.1" cy="558.3" r="1.75" fill="#caa900"/>
<circle cx="205.0" cy="556.1" r="1.75" fill="#bfb600"/>
<circle cx="204.6" cy="559.0" r="1.75" fill="#c6ae00"/>
<circle cx="204.5" cy="556.9" r="1.75" fill="#b4c100"/>
<circle cx="206.8" cy="560.8" r="1.75" fill="#c5af00"/>
<circle cx="206.8" cy="555.0" r="1.75" fill="#c7ad00"/>
<circle cx="206.4" cy="558.0" r="1.75" fill="#c4b100"/>
<circle cx="207.7" cy="556.6" r="1.75" fill="#adc700"/>
<circle cx="208.3" cy="555.4" r="1.75" fill="#b6bf00"/>
<circle cx="208.3" cy="559.7" r="1.75" fill="#c7ad00"/>
<circle cx="209.4" cy="557.1" r="1.75" fill="#bdb800"/>
<circle cx="209.2" cy="560.4" r="1.75" fill="#bcb900"/>
<circle cx="209.2" cy="559.5" r="1.75" fill="#caa900"/>
<circle cx="210.7" cy="561.2" r="1.75" fill="#a9cb00"/>
<circle cx="211.5" cy="557.0" r="1.75" fill="#c4b100"/>
<circle cx="211.5" cy="560.3" r="1.75" fill="#b5c000"/>
<circle cx="213.0" cy="557.8" r="1.75" fill="#b2c300"/>
<circle cx="212.7" cy="559.7" r="1.75" fill="#c2b300"/>
<circle cx="212.9" cy="562.0" r="1.75" fill="#babb00"/>
<circle cx="213.9" cy="560.3" r="1.75" fill="#c7ad00"/>
<circle cx="213.8" cy="560.5" r="1.75" fill="#beb700"/>
<circle cx="213.5" cy="557.2" r="1.75" fill="#c0b500"/>
<circle cx="214.9" cy="561.9" r="1.75" fill="#aec600"/>
<circle cx="215.3" cy="556.7" r="1.75" fill="#c9aa00"/>
<circle cx="214.9" cy="556.9" r="1.75" fill="#a9ca00"/>
<circle cx="217.2" cy="560.6" r="1.75" fill="#c0b500"/>
<circle cx="217.1" cy="560.9" r="1.75" fill="#abc900"/>
<circle cx="217.4" cy="558.5" r="1.75" fill="#c6ae00"/>
<circle cx="218.9" cy="562.1" r="1.75" fill="#abc900"/>
<circle cx="218.0" cy="562.2" r="1.75" fill="#caa900"/>
<circle cx="217.9" cy="557.6" r="1.75" fill="#adc700"/>
<circle cx="220.2" cy="562.0" r="1.75" fill="#c6ae00"/>
<circle cx="219.7" cy="561.8" r="1.75" fill="#c0b500"/>
<circle cx="220.3" cy="557.1" r="1.75" fill="#acc800"/>
<circle cx="221.4" cy="557.9" r="1.75" fill="#b5c000"/>
<circle cx="221.2" cy="556.7" r="1.75" fill="#b3c200"/>
<circle cx="221.3" cy="561.3" r="1.75" fill="#b7be00"/>
<circle cx="223.4" cy="563.0" r="1.75" fill="#bcb900"/>
<circle cx="222.9" cy="560.8" r="1.75" fill="#a9ca00"/>
<circle cx="222.8" cy="559.6" r="1.75" fill="#c5b000"/>
<circle cx="224.2" cy="561.5" r="1.75" fill="#bdb800"/>
<circle cx="224.9" cy="562.5" r="1.75" fill="#acc800"/>
<circle cx="224.1" cy="558.0" r="1.75" fill="#a8cb00"/>
<circle cx="225.4" cy="562.1" r="1.75" fill="#cba800"/>
<circle cx="226.4" cy="560.3" r="1.75" fill="#bbba00"/>
<circle cx="225.8" cy="558.3" r="1.75" fill="#bbba00"/>
<circle cx="228.0" cy="562.7" r="1.75" fill="#b3c200"/>
<circle cx="227.7" cy="559.1" r="1.75" fill="#b1c400"/>
<circle cx="227.7" cy="560.5" r="1.75" fill="#adc700"/>
<circle cx="229.2" cy="557.9" r="1.75" fill="#c5af00"/>
<circle cx="228.8" cy="562.5" r="1.75" fill="#c0b500"/>
<circle cx="229.5" cy="560.0" r="1.75" fill="#b8bd00"/>
<circle cx="229.9" cy="558.1" r="1.75" fill="#c8ab00"/>
<circle cx="231.0" cy="558.9" r="1.75" fill="#b3c200"/>
<circle cx="231.0" cy="560.8" r="1.75" fill="#b7be00"/>
<circle cx="232.0" cy="559.3" r="1.75" fill="#babb00"/>
<circle cx="232.2" cy="562.6" r="1.75" fill="#c4b000"/>
<circle cx="231.6" cy="560.0" r="1.75" fill="#b5c000"/>
<circle cx="233.8" cy="563.4" r="1.75" fill="#c1b400"/>
<circle cx="233.8" cy="559.0" r="1.75" fill="#b9bc00"/>
<circle cx="233.5" cy="561.7" r="1.75" fill="#adc700"/>
<circle cx="234.6" cy="563.8" r="1.75" fill="#b2c300"/>
<circle cx="235.4" cy="560.0" r="1.75" fill="#c2b200"/>
<circle cx="234.7" cy="559.1" r="1.75" fill="#afc600"/>
<circle cx="236.1" cy="560.3" r="1.75" fill="#bcb900"/>
<circle cx="237.1" cy="560.4" r="1.75" fill="#b0c500"/>
<circle cx="237.1" cy="563.0" r="1.75" fill="#acc800"/>
<circle cx="238.6" cy="559.0" r="1.75" fill="#b7be00"/>
<circle cx="237.9" cy="563.6" r="1.75" fill="#c3b100"/>
<circle cx="237.5" cy="559.7" r="1.75" fill="#c0b500"/>
<circle cx="238.9" cy="559.9" r="1.75" fill="#b8be00"/>
<circle cx="239.7" cy="561.1" r="1.75" fill="#c5af00"/>
<circle cx="239.5" cy="561.8" r="1.75" fill="#c0b500"/>
<circle cx="240.9" cy="559.6" r="1.75" fill="#bfb600"/>
<circle cx="240.9" cy="563.5" r="1.75" fill="#c9ab00"/>
<circle cx="240.9" cy="562.4" r="1.75" fill="#c4b100"/>
<circle cx="243.0" cy="560.4" r="1.75" fill="#c3b200"/>
<circle cx="242.9" cy="563.9" r="1.75" fill="#c2b200"/>
<circle cx="242.4" cy="563.3" r="1.75" fill="#c0b500"/>
<circle cx="243.5" cy="561.1" r="1.75" fill="#c0b500"/>
<circle cx="244.3" cy="561.8" r="1.75" fill="#c5af00"/>
<circle cx="243.9" cy="563.1" r="1.75" fill="#b2c200"/>
<circle cx="245.4" cy="562.1" r="1.75" fill="#c0b500"/>
<circle cx="245.1" cy="563.6" r="1.75" fill="#c9aa00"/>
<circle cx="245.4" cy="563.4" r="1.75" fill="#c5b000"/>
<circle cx="246.4" cy="562.5" r="1.75" fill="#cba800"/>
<circle cx="247.3" cy="562.9" r="1.75" fill="#afc600"/>
<circle cx="246.5" cy="565.5" r="1.75" fill="#bcb900"/>
<circle cx="248.8" cy="563.2" r="1.75" fill="#bdb800"/>
<circle cx="248.9" cy="562.8" r="1.75" fill="#c0b500"/>
<circle cx="249.0" cy="562.9" r="1.75" fill="#b8bd00"/>
<circle cx="249.9" cy="561.0" r="1.75" fill="#c2b300"/>
<circle cx="250.6" cy="564.6" r="1.75" fill="#adc700"/>
<circle cx="249.7" cy="562.0" r="1.75" fill="#abc900"/>
<circle cx="251.4" cy="562.4" r="1.75" fill="#a9cb00"/>
<circle cx="251.3" cy="562.6" r="1.75" fill="#c2b200"/>
<circle cx="251.8" cy="561.6" r="1.75" fill="#b1c300"/>
<circle cx="252.7" cy="566.1" r="1.75" fill="#bcb900"/>
<circle cx="252.7" cy="565.2" r="1.75" fill="#b8bd00"/>
<circle cx="253.4" cy="560.8" r="1.75" fill="#c5b000"/>
<circle cx="254.6" cy="564.3" r="1.75" fill="#babb00"/>
<circle cx="254.3" cy="561.6" r="1.75" fill="#caa900"/>
<circle cx="254.9" cy="564.3" r="1.75" fill="#c6ae00"/>
<circle cx="256.1" cy="563.4" r="1.75" fill="#d0a100"/>
<circle cx="255.8" cy="561.1" r="1.75" fill="#e08700"/>
<circle cx="255.9" cy="565.8" r="1.75" fill="#cfa300"/>
<circle cx="257.1" cy="562.1" r="1.75" fill="#d49b00"/>
<circle cx="257.2" cy="560.5" r="1.75" fill="#dd8d00"/>
<circle cx="257.5" cy="562.1" r="1.75" fill="#d0a100"/>
<circle cx="259.2" cy="563.4" r="1.75" fill="#db9100"/>
<circle cx="259.4" cy="563.0" r="1.75" fill="#e38200"/>
<circle cx="259.5" cy="561.0" r="1.75" fill="#e08700"/>
<circle cx="260.9" cy="565.9" r="1.75" fill="#cba800"/>
<circle cx="259.9" cy="564.9" r="1.75" fill="#c6ae00"/>
<circle cx="261.7" cy="567.1" r="1.75" fill="#db9000"/>
<circle cx="261.7" cy="561.6" r="1.75" fill="#cba800"/>
<circle cx="263.1" cy="566.2" r="1.75" fill="#d29f00"/>
<circle cx="263.1" cy="567.0" r="1.75" fill="#df8900"/>
<circle cx="265.3" cy="564.8" r="1.75" fill="#da9200"/>
<circle cx="265.3" cy="564.0" r="1.75" fill="#e28300"/>
<circle cx="266.7" cy="564.8" r="1.75" fill="#cda600"/>
<circle cx="266.4" cy="563.6" r="1.75" fill="#de8c00"/>
<circle cx="267.7" cy="565.1" r="1.75" fill="#d89500"/>
<circle cx="268.0" cy="562.5" r="1.75" fill="#cba800"/>
<circle cx="269.1" cy="562.0" r="1.75" fill="#d69900"/>
<circle cx="269.5" cy="563.7" r="1.75" fill="#d79800"/>
<circle cx="271.4" cy="565.4" r="1.75" fill="#c6ae00"/>
<circle cx="271.2" cy="563.8" r="1.75" fill="#d99500"/>
<circle cx="272.4" cy="565.4" r="1.75" fill="#d39e00"/>
<circle cx="272.7" cy="565.9" r="1.75" fill="#c8ab00"/>
<circle cx="274.1" cy="564.8" r="1.75" fill="#c7ad00"/>
<circle cx="273.8" cy="565.0" r="1.75" fill="#e38100"/>
<circle cx="275.5" cy="566.3" r="1.75" fill="#d79700"/>
<circle cx="275.8" cy="566.0" r="1.75" fill="#c7ad00"/>
<circle cx="277.4" cy="565.1" r="1.75" fill="#d19f00"/>
<circle cx="277.0" cy="564.0" r="1.75" fill="#d69900"/>
<circle cx="278.4" cy="565.8" r="1.75" fill="#cda500"/>
<circle cx="278.9" cy="564.4" r="1.75" fill="#d89500"/>
<circle cx="235.8" cy="551.4" r="1.75" fill="#e28300"/>
<circle cx="243.6" cy="554.1" r="1.75" fill="#e57d00"/>
<circle cx="261.1" cy="554.4" r="1.75" fill="#ec6c00"/>
<circle cx="237.2" cy="553.3" r="1.75" fill="#df8900"/>
<circle cx="246.7" cy="553.1" r="1.75" fill="#ec6d00"/>
<circle cx="226.5" cy="550.9" r="1.75" fill="#ef6600"/>
<circle cx="245.2" cy="555.0" r="1.75" fill="#e08800"/>
<circle cx="225.2" cy="552.6" r="1.75" fill="#ef6400"/>
<circle cx="247.5" cy="553.1" r="1.75" fill="#ec6c00"/>
<circle cx="258.7" cy="554.3" r="1.75" fill="#e87700"/>
<circle cx="303.3" cy="557.6" r="1.75" fill="#f84200"/>
<circle cx="307.9" cy="560.3" r="1.75" fill="#fa3c00"/>
<circle cx="288.9" cy="556.0" r="1.75" fill="#ef6400"/>
<circle cx="265.4" cy="557.0" r="1.75" fill="#fb3000"/>
<circle cx="327.7" cy="560.2" r="1.75" fill="#f45300"/>
<circle cx="319.9" cy="558.8" r="1.75" fill="#f84500"/>
<circle cx="271.9" cy="556.4" r="1.75" fill="#f55000"/>
<circle cx="277.1" cy="556.3" r="1.75" fill="#f93e00"/>
<circle cx="329.4" cy="563.0" r="1.75" fill="#f84500"/>
<circle cx="253.3" cy="555.4" r="1.75" fill="#fc2c00"/>
<circle cx="298.9" cy="556.2" r="1.75" fill="#f64e00"/>
<circle cx="251.2" cy="554.0" r="1.75" fill="#f84300"/>
<circle cx="329.7" cy="558.9" r="1.75" fill="#f64c00"/>
<circle cx="285.1" cy="558.6" r="1.75" fill="#f93e00"/>
<circle cx="268.0" cy="556.7" r="1.75" fill="#ee6900"/>
<circle cx="250.4" cy="552.6" r="1.75" fill="#f06300"/>
<circle cx="332.1" cy="563.2" r="1.75" fill="#fd2400"/>
<circle cx="261.0" cy="556.6" r="1.75" fill="#fa3700"/>
<circle cx="270.6" cy="554.3" r="1.75" fill="#f15f00"/>
<circle cx="254.3" cy="552.6" r="1.75" fill="#fa3700"/>
<circle cx="322.7" cy="559.4" r="1.75" fill="#ef6500"/>
<circle cx="303.4" cy="557.6" r="1.75" fill="#f64d00"/>
<circle cx="329.2" cy="562.1" r="1.75" fill="#fe0f00"/>
<circle cx="311.0" cy="561.5" r="1.75" fill="#ee6900"/>
<circle cx="305.3" cy="557.3" r="1.75" fill="#ef6500"/>
<circle cx="276.4" cy="554.9" r="1.75" fill="#f16000"/>
<circle cx="323.2" cy="560.5" r="1.75" fill="#ef6600"/>
<circle cx="281.2" cy="556.1" r="1.75" fill="#f64f00"/>
<circle cx="307.5" cy="560.5" r="1.75" fill="#fc2e00"/>
<circle cx="280.9" cy="555.7" r="1.75" fill="#f93f00"/>
<circle cx="285.5" cy="557.3" r="1.75" fill="#fc2f00"/>
<circle cx="330.3" cy="559.9" r="1.75" fill="#f84500"/>
<circle cx="274.9" cy="557.8" r="1.75" fill="#ff0b00"/>
<circle cx="309.8" cy="557.7" r="1.75" fill="#f45600"/>
<circle cx="301.5" cy="556.2" r="1.75" fill="#fc2900"/>
<circle cx="301.1" cy="559.2" r="1.75" fill="#f54f00"/>
<circle cx="325.5" cy="561.2" r="1.75" fill="#fa3a00"/>
<circle cx="301.2" cy="556.5" r="1.75" fill="#fc2c00"/>
<circle cx="274.1" cy="558.0" r="1.75" fill="#f25a00"/>
<circle cx="285.9" cy="556.5" r="1.75" fill="#fc2b00"/>
<circle cx="322.8" cy="549.8" r="1.75" fill="#d1a000"/>
<circle cx="320.7" cy="555.1" r="1.75" fill="#c8ac00"/>
<circle cx="305.7" cy="555.0" r="1.75" fill="#d0a100"/>
<circle cx="317.2" cy="555.4" r="1.75" fill="#bfb500"/>
<circle cx="300.4" cy="553.1" r="1.75" fill="#d0a100"/>
<circle cx="303.6" cy="554.4" r="1.75" fill="#d49b00"/>
<circle cx="304.6" cy="553.4" r="1.75" fill="#cca700"/>
<circle cx="311.0" cy="550.8" r="1.75" fill="#bcb900"/>
<circle cx="341.0" cy="557.3" r="1.9" fill="#e28400"/>
<circle cx="343.5" cy="556.8" r="1.9" fill="#e28300"/>
<circle cx="346.5" cy="557.8" r="1.9" fill="#de8c00"/>
<circle cx="349.5" cy="558.0" r="1.9" fill="#d89500"/>
<circle cx="352.5" cy="558.3" r="1.9" fill="#e28300"/>
<circle cx="344.5" cy="558.6" r="1.9" fill="#e28400"/>
<circle cx="351.0" cy="557.0" r="1.9" fill="#da9200"/>
<circle cx="321.0" cy="553.0" r="1.75" fill="#e67b00"/>
<circle cx="325.0" cy="552.0" r="1.75" fill="#ec6e00"/>
<circle cx="329.0" cy="554.0" r="1.75" fill="#eb6f00"/>
<circle cx="331.0" cy="556.0" r="1.75" fill="#e57d00"/>
<circle cx="324.0" cy="556.0" r="1.75" fill="#e57f00"/>
<line x1="112.90" y1="592" x2="112.90" y2="595.5" stroke="#4d4d4d" stroke-width="1"/>
<line x1="262.25" y1="592" x2="262.25" y2="595.5" stroke="#4d4d4d" stroke-width="1"/>
<line x1="411.60" y1="592" x2="411.60" y2="595.5" stroke="#4d4d4d" stroke-width="1"/>
<line x1="70.5" y1="544.30" x2="74" y2="544.30" stroke="#4d4d4d" stroke-width="1"/>
<line x1="70.5" y1="426.40" x2="74" y2="426.40" stroke="#4d4d4d" stroke-width="1"/>
<line x1="250" y1="557.8" x2="403" y2="573.0" stroke="#cdb82a" stroke-width="1.0"/>
<line x1="113.30" y1="544.00" x2="230.87" y2="422.48" stroke="#000" stroke-width="2.2"/>
<polyline points="229.41,428.30 230.87,422.48 225.10,424.13" fill="none" stroke="#000" stroke-width="2.2" stroke-linejoin="miter" stroke-miterlimit="10" stroke-linecap="butt"/>
<line x1="113.30" y1="544.00" x2="371.00" y2="538.64" stroke="#000" stroke-width="1.7"/>
<polyline points="365.87,541.74 371.00,538.64 365.74,535.74" fill="none" stroke="#000" stroke-width="1.7" stroke-linejoin="miter" stroke-miterlimit="10" stroke-linecap="butt"/>
<line x1="113.30" y1="544.00" x2="381.81" y2="572.82" stroke="#000" stroke-width="1.7"/>
<polyline points="376.32,575.25 381.81,572.82 376.96,569.28" fill="none" stroke="#000" stroke-width="1.7" stroke-linejoin="miter" stroke-miterlimit="10" stroke-linecap="butt"/>
<line x1="113.30" y1="544.00" x2="408.81" y2="572.44" stroke="#000" stroke-width="1.7"/>
<polyline points="403.35,574.93 408.81,572.44 403.92,568.95" fill="none" stroke="#000" stroke-width="1.7" stroke-linejoin="miter" stroke-miterlimit="10" stroke-linecap="butt"/>
<text transform="translate(230.20,416.50) scale(1.060,1)" font-size="13.8" text-anchor="start" font-weight="bold" fill="#000" >OLII</text>
<text transform="translate(364.20,533.80) scale(1.100,1)" font-size="13.8" text-anchor="start" font-weight="bold" fill="#000" >C1QII</text>
<text transform="translate(354.10,588.30) scale(1.090,1)" font-size="13.8" text-anchor="start" font-weight="bold" fill="#000" >ICII</text>
<text transform="translate(413.90,568.30) scale(1.100,1)" font-size="13.8" text-anchor="start" font-weight="bold" fill="#000" >C3DII</text>
<text transform="translate(8.70,323.40) scale(0.970,1)" font-size="28.2" text-anchor="start" font-weight="bold" fill="#000" stroke="#000" stroke-width="0.6">B</text>
<text transform="translate(73.60,328.90) scale(1.135,1)" font-size="12.3" text-anchor="start" font-weight="normal" fill="#111" stroke="#111" stroke-width="0.2">PCA - Biplot</text>
<text transform="translate(68.30,430.90) scale(0.950,1)" font-size="9.6" text-anchor="end" font-weight="normal" fill="#4d4d4d" >10</text>
<text transform="translate(68.30,548.90) scale(0.920,1)" font-size="9.6" text-anchor="end" font-weight="normal" fill="#4d4d4d" >0</text>
<text transform="translate(112.90,606.40) scale(0.950,1)" font-size="9.6" text-anchor="middle" font-weight="normal" fill="#4d4d4d" >0</text>
<text transform="translate(262.25,606.40) scale(0.950,1)" font-size="9.6" text-anchor="middle" font-weight="normal" fill="#4d4d4d" >5</text>
<text transform="translate(411.60,606.40) scale(0.950,1)" font-size="9.6" text-anchor="middle" font-weight="normal" fill="#4d4d4d" >10</text>
<text x="293.80" y="619.70" font-size="11.4" text-anchor="middle" font-weight="normal" fill="#262626" >Dim1 (53.3%)</text>
<text transform="translate(53.7,433.9) rotate(-90) scale(1,1.07)" font-size="11.5" text-anchor="middle" fill="#262626">Dim2 (23.6%)</text>
<defs><linearGradient id="gB" x1="0" y1="0" x2="0" y2="1"><stop offset="0.000" stop-color="#ff0000"/><stop offset="0.025" stop-color="#fb3300"/><stop offset="0.050" stop-color="#f74a00"/><stop offset="0.075" stop-color="#f25b00"/><stop offset="0.100" stop-color="#ed6a00"/><stop offset="0.125" stop-color="#e87600"/><stop offset="0.150" stop-color="#e38200"/><stop offset="0.175" stop-color="#dd8d00"/><stop offset="0.200" stop-color="#d79800"/><stop offset="0.225" stop-color="#d0a100"/><stop offset="0.250" stop-color="#c9ab00"/><stop offset="0.275" stop-color="#c1b400"/><stop offset="0.300" stop-color="#b8bd00"/><stop offset="0.325" stop-color="#aec600"/><stop offset="0.350" stop-color="#a4ce00"/><stop offset="0.375" stop-color="#98d700"/><stop offset="0.400" stop-color="#8adf00"/><stop offset="0.425" stop-color="#7ae700"/><stop offset="0.450" stop-color="#65ef00"/><stop offset="0.475" stop-color="#49f700"/><stop offset="0.500" stop-color="#00ff00"/><stop offset="0.525" stop-color="#39f431"/><stop offset="0.550" stop-color="#4fe947"/><stop offset="0.575" stop-color="#5ddf57"/><stop offset="0.600" stop-color="#67d465"/><stop offset="0.625" stop-color="#6fc972"/><stop offset="0.650" stop-color="#75bf7d"/><stop offset="0.675" stop-color="#79b488"/><stop offset="0.700" stop-color="#7ca993"/><stop offset="0.725" stop-color="#7d9e9c"/><stop offset="0.750" stop-color="#7d93a6"/><stop offset="0.775" stop-color="#7d88af"/><stop offset="0.800" stop-color="#7a7db9"/><stop offset="0.825" stop-color="#7772c2"/><stop offset="0.850" stop-color="#7267cb"/><stop offset="0.875" stop-color="#6c5bd3"/><stop offset="0.900" stop-color="#644fdc"/><stop offset="0.925" stop-color="#5941e5"/><stop offset="0.950" stop-color="#4b33ee"/><stop offset="0.975" stop-color="#3621f6"/><stop offset="1.000" stop-color="#0000ff"/></linearGradient></defs>
<rect x="497.4" y="385.0" width="17.6" height="88.8" fill="url(#gB)"/>
<line x1="497.4" y1="407.0" x2="500.92" y2="407.0" stroke="#fff" stroke-width="0.9" opacity="0.85"/>
<line x1="511.48" y1="407.0" x2="515.0" y2="407.0" stroke="#fff" stroke-width="0.9" opacity="0.85"/>
<line x1="497.4" y1="429.4" x2="500.92" y2="429.4" stroke="#fff" stroke-width="0.9" opacity="0.85"/>
<line x1="511.48" y1="429.4" x2="515.0" y2="429.4" stroke="#fff" stroke-width="0.9" opacity="0.85"/>
<line x1="497.4" y1="451.6" x2="500.92" y2="451.6" stroke="#fff" stroke-width="0.9" opacity="0.85"/>
<line x1="511.48" y1="451.6" x2="515.0" y2="451.6" stroke="#fff" stroke-width="0.9" opacity="0.85"/>
<text x="520.40" y="411.22" font-size="9.8" text-anchor="start" font-weight="normal" fill="#222" >0.75</text>
<text x="520.40" y="433.62" font-size="9.8" text-anchor="start" font-weight="normal" fill="#222" >0.50</text>
<text x="520.40" y="455.42" font-size="9.8" text-anchor="start" font-weight="normal" fill="#222" >0.25</text>
<text x="497.00" y="377.60" font-size="12" text-anchor="start" font-weight="normal" fill="#222" >cos2</text>
</svg>
</body></html>
